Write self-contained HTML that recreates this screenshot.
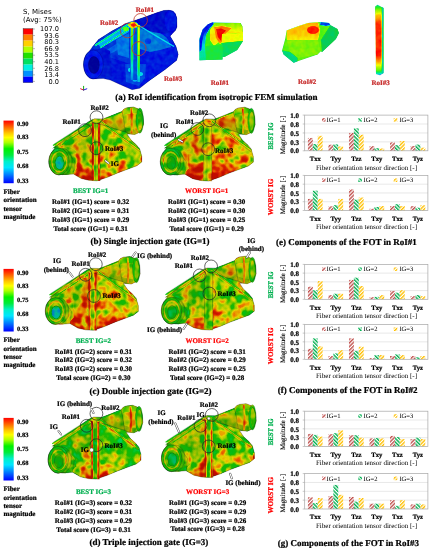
<!DOCTYPE html>
<html><head><meta charset="utf-8"><style>
html,body{margin:0;padding:0;background:#fff;}
svg{display:block;}
</style></head><body>
<svg width="430" height="550" viewBox="0 0 430 550" text-rendering="geometricPrecision">
<defs>
<linearGradient id="jet" x1="0" y1="0" x2="0" y2="1">
<stop offset="0" stop-color="#ff0000"/><stop offset="0.1" stop-color="#ff6400"/>
<stop offset="0.2" stop-color="#ffc800"/><stop offset="0.27" stop-color="#ffff00"/>
<stop offset="0.35" stop-color="#aaff00"/><stop offset="0.45" stop-color="#00f000"/>
<stop offset="0.55" stop-color="#00eb3c"/><stop offset="0.65" stop-color="#00f0c8"/>
<stop offset="0.75" stop-color="#00e6ff"/><stop offset="0.87" stop-color="#0078ff"/>
<stop offset="1" stop-color="#0000ff"/></linearGradient>
<pattern id="hr" width="2.6" height="2.6" patternUnits="userSpaceOnUse" patternTransform="rotate(45)"><rect width="2.6" height="2.6" fill="#fff"/><rect width="1.4" height="2.6" fill="#c0504d"/></pattern>
<pattern id="hg" width="2.6" height="2.6" patternUnits="userSpaceOnUse" patternTransform="rotate(-45)"><rect width="2.6" height="2.6" fill="#fff"/><rect width="1.4" height="2.6" fill="#00b050"/></pattern>
<pattern id="hy" width="2.6" height="2.6" patternUnits="userSpaceOnUse" patternTransform="rotate(45)"><rect width="2.6" height="2.6" fill="#fff"/><rect width="1.4" height="2.6" fill="#ffc000"/></pattern>
<linearGradient id="lf_m0" x1="0" y1="0" x2="0.25" y2="1"><stop offset="0" stop-color="rgb(97,247,102)"/><stop offset="0.25" stop-color="rgb(110,230,107)"/><stop offset="0.6" stop-color="rgb(108,219,115)"/><stop offset="0.85" stop-color="rgb(120,235,128)"/><stop offset="1" stop-color="rgb(154,230,140)"/></linearGradient>
<linearGradient id="rf_m0" x1="0" y1="0" x2="-0.3" y2="1"><stop offset="0" stop-color="rgb(102,247,102)"/><stop offset="0.35" stop-color="rgb(101,242,115)"/><stop offset="0.55" stop-color="rgb(115,242,128)"/><stop offset="0.75" stop-color="rgb(144,242,140)"/><stop offset="1" stop-color="rgb(167,235,140)"/></linearGradient>
<linearGradient id="cy_m0" x1="0" y1="0" x2="0.15" y2="1"><stop offset="0" stop-color="rgb(108,247,64)"/><stop offset="0.25" stop-color="rgb(133,237,82)"/><stop offset="0.65" stop-color="rgb(138,209,82)"/><stop offset="1" stop-color="rgb(130,191,76)"/></linearGradient>
<filter id="femf0" color-interpolation-filters="sRGB" filterUnits="userSpaceOnUse" x="40" y="100" width="110" height="90">
 <feTurbulence type="fractalNoise" baseFrequency="0.11" numOctaves="2" seed="7" result="n0"/>
 <feColorMatrix in="n0" type="matrix" values="2 0 0 0 -0.5  0 0 0 0 0  0 0 0 0 0  0 0 0 0 1" result="n2"/>
 <feColorMatrix in="SourceGraphic" type="matrix" values="0 0 1 0 0  0 0 0 0 0  0 0 0 0 0  0 0 0 0 1" result="amp"/>
 <feComposite in="n2" in2="amp" operator="arithmetic" k1="1" k2="0" k3="0" k4="0" result="prod"/>
 <feColorMatrix in="SourceGraphic" type="matrix" values="1 0 0 0 0  0 1 0 0 0  0 0 0 0 0  0 0 0 0 1" result="src"/>
 <feComposite in="prod" in2="src" operator="arithmetic" k1="0" k2="1" k3="1" k4="0" result="v"/>
 <feColorMatrix in="v" type="matrix" values="1 0 0 0 0  1 0 0 0 0  1 0 0 0 0  0 0 0 0 1" result="vvv"/>
 <feComponentTransfer in="vvv" result="col"><feFuncR type="table" tableValues="0 0 0 0 0.02 0.12 0.6 0.95 0.98 0.92 0.8"/><feFuncG type="table" tableValues="0.2 0.55 0.85 0.85 0.78 0.76 0.84 0.88 0.55 0.16 0.05"/><feFuncB type="table" tableValues="1 0.95 0.7 0.35 0.08 0 0 0 0 0 0"/></feComponentTransfer>
 <feColorMatrix in="v" type="matrix" values="0 1 0 0 0  0 1 0 0 0  0 1 0 0 0  0 0 0 0 1" result="sss"/>
 <feComposite in="col" in2="sss" operator="arithmetic" k1="1" k2="0" k3="0" k4="0" result="sh"/>
 <feComposite in="sh" in2="SourceAlpha" operator="in"/>
</filter>
<linearGradient id="lf_m1" x1="0" y1="0" x2="0.25" y2="1"><stop offset="0" stop-color="rgb(107,247,102)"/><stop offset="0.25" stop-color="rgb(120,230,107)"/><stop offset="0.6" stop-color="rgb(119,219,115)"/><stop offset="0.85" stop-color="rgb(130,235,128)"/><stop offset="1" stop-color="rgb(164,230,140)"/></linearGradient>
<linearGradient id="rf_m1" x1="0" y1="0" x2="-0.3" y2="1"><stop offset="0" stop-color="rgb(130,247,102)"/><stop offset="0.35" stop-color="rgb(129,242,115)"/><stop offset="0.55" stop-color="rgb(143,242,128)"/><stop offset="0.75" stop-color="rgb(172,242,140)"/><stop offset="1" stop-color="rgb(195,235,140)"/></linearGradient>
<linearGradient id="cy_m1" x1="0" y1="0" x2="0.15" y2="1"><stop offset="0" stop-color="rgb(108,247,64)"/><stop offset="0.25" stop-color="rgb(148,237,82)"/><stop offset="0.65" stop-color="rgb(153,209,82)"/><stop offset="1" stop-color="rgb(145,191,76)"/></linearGradient>
<filter id="femf1" color-interpolation-filters="sRGB" filterUnits="userSpaceOnUse" x="151.5" y="100.2" width="110" height="90">
 <feTurbulence type="fractalNoise" baseFrequency="0.11" numOctaves="2" seed="11" result="n0"/>
 <feColorMatrix in="n0" type="matrix" values="2 0 0 0 -0.5  0 0 0 0 0  0 0 0 0 0  0 0 0 0 1" result="n2"/>
 <feColorMatrix in="SourceGraphic" type="matrix" values="0 0 1 0 0  0 0 0 0 0  0 0 0 0 0  0 0 0 0 1" result="amp"/>
 <feComposite in="n2" in2="amp" operator="arithmetic" k1="1" k2="0" k3="0" k4="0" result="prod"/>
 <feColorMatrix in="SourceGraphic" type="matrix" values="1 0 0 0 0  0 1 0 0 0  0 0 0 0 0  0 0 0 0 1" result="src"/>
 <feComposite in="prod" in2="src" operator="arithmetic" k1="0" k2="1" k3="1" k4="0" result="v"/>
 <feColorMatrix in="v" type="matrix" values="1 0 0 0 0  1 0 0 0 0  1 0 0 0 0  0 0 0 0 1" result="vvv"/>
 <feComponentTransfer in="vvv" result="col"><feFuncR type="table" tableValues="0 0 0 0 0.02 0.12 0.6 0.95 0.98 0.92 0.8"/><feFuncG type="table" tableValues="0.2 0.55 0.85 0.85 0.78 0.76 0.84 0.88 0.55 0.16 0.05"/><feFuncB type="table" tableValues="1 0.95 0.7 0.35 0.08 0 0 0 0 0 0"/></feComponentTransfer>
 <feColorMatrix in="v" type="matrix" values="0 1 0 0 0  0 1 0 0 0  0 1 0 0 0  0 0 0 0 1" result="sss"/>
 <feComposite in="col" in2="sss" operator="arithmetic" k1="1" k2="0" k3="0" k4="0" result="sh"/>
 <feComposite in="sh" in2="SourceAlpha" operator="in"/>
</filter>
<linearGradient id="lf_m2" x1="0" y1="0" x2="0.25" y2="1"><stop offset="0" stop-color="rgb(112,247,102)"/><stop offset="0.25" stop-color="rgb(125,230,107)"/><stop offset="0.6" stop-color="rgb(124,219,115)"/><stop offset="0.85" stop-color="rgb(135,235,128)"/><stop offset="1" stop-color="rgb(170,230,140)"/></linearGradient>
<linearGradient id="rf_m2" x1="0" y1="0" x2="-0.3" y2="1"><stop offset="0" stop-color="rgb(117,247,102)"/><stop offset="0.35" stop-color="rgb(116,242,115)"/><stop offset="0.55" stop-color="rgb(130,242,128)"/><stop offset="0.75" stop-color="rgb(159,242,140)"/><stop offset="1" stop-color="rgb(182,235,140)"/></linearGradient>
<linearGradient id="cy_m2" x1="0" y1="0" x2="0.15" y2="1"><stop offset="0" stop-color="rgb(108,247,64)"/><stop offset="0.25" stop-color="rgb(140,237,82)"/><stop offset="0.65" stop-color="rgb(145,209,82)"/><stop offset="1" stop-color="rgb(138,191,76)"/></linearGradient>
<filter id="femf2" color-interpolation-filters="sRGB" filterUnits="userSpaceOnUse" x="36.5" y="249.5" width="110" height="90">
 <feTurbulence type="fractalNoise" baseFrequency="0.11" numOctaves="2" seed="5" result="n0"/>
 <feColorMatrix in="n0" type="matrix" values="2 0 0 0 -0.5  0 0 0 0 0  0 0 0 0 0  0 0 0 0 1" result="n2"/>
 <feColorMatrix in="SourceGraphic" type="matrix" values="0 0 1 0 0  0 0 0 0 0  0 0 0 0 0  0 0 0 0 1" result="amp"/>
 <feComposite in="n2" in2="amp" operator="arithmetic" k1="1" k2="0" k3="0" k4="0" result="prod"/>
 <feColorMatrix in="SourceGraphic" type="matrix" values="1 0 0 0 0  0 1 0 0 0  0 0 0 0 0  0 0 0 0 1" result="src"/>
 <feComposite in="prod" in2="src" operator="arithmetic" k1="0" k2="1" k3="1" k4="0" result="v"/>
 <feColorMatrix in="v" type="matrix" values="1 0 0 0 0  1 0 0 0 0  1 0 0 0 0  0 0 0 0 1" result="vvv"/>
 <feComponentTransfer in="vvv" result="col"><feFuncR type="table" tableValues="0 0 0 0 0.02 0.12 0.6 0.95 0.98 0.92 0.8"/><feFuncG type="table" tableValues="0.2 0.55 0.85 0.85 0.78 0.76 0.84 0.88 0.55 0.16 0.05"/><feFuncB type="table" tableValues="1 0.95 0.7 0.35 0.08 0 0 0 0 0 0"/></feComponentTransfer>
 <feColorMatrix in="v" type="matrix" values="0 1 0 0 0  0 1 0 0 0  0 1 0 0 0  0 0 0 0 1" result="sss"/>
 <feComposite in="col" in2="sss" operator="arithmetic" k1="1" k2="0" k3="0" k4="0" result="sh"/>
 <feComposite in="sh" in2="SourceAlpha" operator="in"/>
</filter>
<linearGradient id="lf_m3" x1="0" y1="0" x2="0.25" y2="1"><stop offset="0" stop-color="rgb(82,247,102)"/><stop offset="0.25" stop-color="rgb(94,230,107)"/><stop offset="0.6" stop-color="rgb(93,219,115)"/><stop offset="0.85" stop-color="rgb(105,235,128)"/><stop offset="1" stop-color="rgb(139,230,140)"/></linearGradient>
<linearGradient id="rf_m3" x1="0" y1="0" x2="-0.3" y2="1"><stop offset="0" stop-color="rgb(94,247,102)"/><stop offset="0.35" stop-color="rgb(93,242,115)"/><stop offset="0.55" stop-color="rgb(107,242,128)"/><stop offset="0.75" stop-color="rgb(136,242,140)"/><stop offset="1" stop-color="rgb(159,235,140)"/></linearGradient>
<linearGradient id="cy_m3" x1="0" y1="0" x2="0.15" y2="1"><stop offset="0" stop-color="rgb(108,247,64)"/><stop offset="0.25" stop-color="rgb(133,237,82)"/><stop offset="0.65" stop-color="rgb(138,209,82)"/><stop offset="1" stop-color="rgb(130,191,76)"/></linearGradient>
<filter id="femf3" color-interpolation-filters="sRGB" filterUnits="userSpaceOnUse" x="152.5" y="249.2" width="110" height="90">
 <feTurbulence type="fractalNoise" baseFrequency="0.11" numOctaves="2" seed="13" result="n0"/>
 <feColorMatrix in="n0" type="matrix" values="2 0 0 0 -0.5  0 0 0 0 0  0 0 0 0 0  0 0 0 0 1" result="n2"/>
 <feColorMatrix in="SourceGraphic" type="matrix" values="0 0 1 0 0  0 0 0 0 0  0 0 0 0 0  0 0 0 0 1" result="amp"/>
 <feComposite in="n2" in2="amp" operator="arithmetic" k1="1" k2="0" k3="0" k4="0" result="prod"/>
 <feColorMatrix in="SourceGraphic" type="matrix" values="1 0 0 0 0  0 1 0 0 0  0 0 0 0 0  0 0 0 0 1" result="src"/>
 <feComposite in="prod" in2="src" operator="arithmetic" k1="0" k2="1" k3="1" k4="0" result="v"/>
 <feColorMatrix in="v" type="matrix" values="1 0 0 0 0  1 0 0 0 0  1 0 0 0 0  0 0 0 0 1" result="vvv"/>
 <feComponentTransfer in="vvv" result="col"><feFuncR type="table" tableValues="0 0 0 0 0.02 0.12 0.6 0.95 0.98 0.92 0.8"/><feFuncG type="table" tableValues="0.2 0.55 0.85 0.85 0.78 0.76 0.84 0.88 0.55 0.16 0.05"/><feFuncB type="table" tableValues="1 0.95 0.7 0.35 0.08 0 0 0 0 0 0"/></feComponentTransfer>
 <feColorMatrix in="v" type="matrix" values="0 1 0 0 0  0 1 0 0 0  0 1 0 0 0  0 0 0 0 1" result="sss"/>
 <feComposite in="col" in2="sss" operator="arithmetic" k1="1" k2="0" k3="0" k4="0" result="sh"/>
 <feComposite in="sh" in2="SourceAlpha" operator="in"/>
</filter>
<linearGradient id="lf_m4" x1="0" y1="0" x2="0.25" y2="1"><stop offset="0" stop-color="rgb(71,247,102)"/><stop offset="0.25" stop-color="rgb(84,230,107)"/><stop offset="0.6" stop-color="rgb(83,219,115)"/><stop offset="0.85" stop-color="rgb(94,235,128)"/><stop offset="1" stop-color="rgb(129,230,140)"/></linearGradient>
<linearGradient id="rf_m4" x1="0" y1="0" x2="-0.3" y2="1"><stop offset="0" stop-color="rgb(76,247,102)"/><stop offset="0.35" stop-color="rgb(75,242,115)"/><stop offset="0.55" stop-color="rgb(89,242,128)"/><stop offset="0.75" stop-color="rgb(119,242,140)"/><stop offset="1" stop-color="rgb(142,235,140)"/></linearGradient>
<linearGradient id="cy_m4" x1="0" y1="0" x2="0.15" y2="1"><stop offset="0" stop-color="rgb(108,247,64)"/><stop offset="0.25" stop-color="rgb(120,237,82)"/><stop offset="0.65" stop-color="rgb(125,209,82)"/><stop offset="1" stop-color="rgb(117,191,76)"/></linearGradient>
<filter id="femf4" color-interpolation-filters="sRGB" filterUnits="userSpaceOnUse" x="39.2" y="398.3" width="110" height="90">
 <feTurbulence type="fractalNoise" baseFrequency="0.11" numOctaves="2" seed="17" result="n0"/>
 <feColorMatrix in="n0" type="matrix" values="2 0 0 0 -0.5  0 0 0 0 0  0 0 0 0 0  0 0 0 0 1" result="n2"/>
 <feColorMatrix in="SourceGraphic" type="matrix" values="0 0 1 0 0  0 0 0 0 0  0 0 0 0 0  0 0 0 0 1" result="amp"/>
 <feComposite in="n2" in2="amp" operator="arithmetic" k1="1" k2="0" k3="0" k4="0" result="prod"/>
 <feColorMatrix in="SourceGraphic" type="matrix" values="1 0 0 0 0  0 1 0 0 0  0 0 0 0 0  0 0 0 0 1" result="src"/>
 <feComposite in="prod" in2="src" operator="arithmetic" k1="0" k2="1" k3="1" k4="0" result="v"/>
 <feColorMatrix in="v" type="matrix" values="1 0 0 0 0  1 0 0 0 0  1 0 0 0 0  0 0 0 0 1" result="vvv"/>
 <feComponentTransfer in="vvv" result="col"><feFuncR type="table" tableValues="0 0 0 0 0.02 0.12 0.6 0.95 0.98 0.92 0.8"/><feFuncG type="table" tableValues="0.2 0.55 0.85 0.85 0.78 0.76 0.84 0.88 0.55 0.16 0.05"/><feFuncB type="table" tableValues="1 0.95 0.7 0.35 0.08 0 0 0 0 0 0"/></feComponentTransfer>
 <feColorMatrix in="v" type="matrix" values="0 1 0 0 0  0 1 0 0 0  0 1 0 0 0  0 0 0 0 1" result="sss"/>
 <feComposite in="col" in2="sss" operator="arithmetic" k1="1" k2="0" k3="0" k4="0" result="sh"/>
 <feComposite in="sh" in2="SourceAlpha" operator="in"/>
</filter>
<linearGradient id="lf_m5" x1="0" y1="0" x2="0.25" y2="1"><stop offset="0" stop-color="rgb(79,247,102)"/><stop offset="0.25" stop-color="rgb(92,230,107)"/><stop offset="0.6" stop-color="rgb(91,219,115)"/><stop offset="0.85" stop-color="rgb(102,235,128)"/><stop offset="1" stop-color="rgb(136,230,140)"/></linearGradient>
<linearGradient id="rf_m5" x1="0" y1="0" x2="-0.3" y2="1"><stop offset="0" stop-color="rgb(87,247,102)"/><stop offset="0.35" stop-color="rgb(85,242,115)"/><stop offset="0.55" stop-color="rgb(99,242,128)"/><stop offset="0.75" stop-color="rgb(129,242,140)"/><stop offset="1" stop-color="rgb(152,235,140)"/></linearGradient>
<linearGradient id="cy_m5" x1="0" y1="0" x2="0.15" y2="1"><stop offset="0" stop-color="rgb(108,247,64)"/><stop offset="0.25" stop-color="rgb(125,237,82)"/><stop offset="0.65" stop-color="rgb(130,209,82)"/><stop offset="1" stop-color="rgb(122,191,76)"/></linearGradient>
<filter id="femf5" color-interpolation-filters="sRGB" filterUnits="userSpaceOnUse" x="152.6" y="396.7" width="110" height="90">
 <feTurbulence type="fractalNoise" baseFrequency="0.11" numOctaves="2" seed="19" result="n0"/>
 <feColorMatrix in="n0" type="matrix" values="2 0 0 0 -0.5  0 0 0 0 0  0 0 0 0 0  0 0 0 0 1" result="n2"/>
 <feColorMatrix in="SourceGraphic" type="matrix" values="0 0 1 0 0  0 0 0 0 0  0 0 0 0 0  0 0 0 0 1" result="amp"/>
 <feComposite in="n2" in2="amp" operator="arithmetic" k1="1" k2="0" k3="0" k4="0" result="prod"/>
 <feColorMatrix in="SourceGraphic" type="matrix" values="1 0 0 0 0  0 1 0 0 0  0 0 0 0 0  0 0 0 0 1" result="src"/>
 <feComposite in="prod" in2="src" operator="arithmetic" k1="0" k2="1" k3="1" k4="0" result="v"/>
 <feColorMatrix in="v" type="matrix" values="1 0 0 0 0  1 0 0 0 0  1 0 0 0 0  0 0 0 0 1" result="vvv"/>
 <feComponentTransfer in="vvv" result="col"><feFuncR type="table" tableValues="0 0 0 0 0.02 0.12 0.6 0.95 0.98 0.92 0.8"/><feFuncG type="table" tableValues="0.2 0.55 0.85 0.85 0.78 0.76 0.84 0.88 0.55 0.16 0.05"/><feFuncB type="table" tableValues="1 0.95 0.7 0.35 0.08 0 0 0 0 0 0"/></feComponentTransfer>
 <feColorMatrix in="v" type="matrix" values="0 1 0 0 0  0 1 0 0 0  0 1 0 0 0  0 0 0 0 1" result="sss"/>
 <feComposite in="col" in2="sss" operator="arithmetic" k1="1" k2="0" k3="0" k4="0" result="sh"/>
 <feComposite in="sh" in2="SourceAlpha" operator="in"/>
</filter>
<filter id="fema" color-interpolation-filters="sRGB" filterUnits="userSpaceOnUse" x="0" y="0" width="430" height="550">
 <feTurbulence type="fractalNoise" baseFrequency="0.2" numOctaves="2" seed="3" result="n0"/>
 <feColorMatrix in="n0" type="matrix" values="1 0 0 0 0  0 0 0 0 0.5  0 0 0 0 0  0 0 0 0 1" result="n"/>
 <feComposite in="n" in2="SourceGraphic" operator="arithmetic" k1="0" k2="0.1" k3="1" k4="-0.05" result="v"/>
 <feColorMatrix in="v" type="matrix" values="1 0 0 0 0  1 0 0 0 0  1 0 0 0 0  0 0 0 0 1" result="vvv"/>
 <feComponentTransfer in="vvv" result="col"><feFuncR type="table" tableValues="0 0 0 0 0 0.2 0.6 0.95 1 1 1"/><feFuncG type="table" tableValues="0 0.35 0.7 0.95 1 1 1 1 0.7 0.35 0"/><feFuncB type="table" tableValues="1 1 1 0.95 0.5 0.1 0 0 0 0 0"/></feComponentTransfer>
 <feColorMatrix in="v" type="matrix" values="0 1 0 0 0  0 1 0 0 0  0 1 0 0 0  0 0 0 0 1" result="sss"/>
 <feComposite in="col" in2="sss" operator="arithmetic" k1="1" k2="0" k3="0" k4="0" result="sh"/>
 <feComposite in="sh" in2="SourceAlpha" operator="in"/>
</filter>
<linearGradient id="ribA" x1="0" y1="0" x2="0" y2="1"><stop offset="0" stop-color="rgb(150,245,0)"/><stop offset="0.35" stop-color="rgb(130,240,0)"/><stop offset="0.6" stop-color="rgb(100,235,0)"/><stop offset="0.85" stop-color="rgb(70,230,0)"/><stop offset="1" stop-color="rgb(40,220,0)"/></linearGradient>
<linearGradient id="ribA2" x1="0" y1="0" x2="0" y2="1"><stop offset="0" stop-color="rgb(170,245,0)"/><stop offset="0.4" stop-color="rgb(175,245,0)"/><stop offset="0.75" stop-color="rgb(120,235,0)"/><stop offset="1" stop-color="rgb(60,225,0)"/></linearGradient>
<linearGradient id="c1l" x1="0" y1="0" x2="0" y2="1"><stop offset="0" stop-color="rgb(5,217,0)"/><stop offset="0.3" stop-color="rgb(31,230,0)"/><stop offset="0.6" stop-color="rgb(76,230,0)"/><stop offset="1" stop-color="rgb(97,230,0)"/></linearGradient>
<linearGradient id="c1t" x1="0" y1="0" x2="0" y2="1"><stop offset="0" stop-color="rgb(148,242,0)"/><stop offset="0.5" stop-color="rgb(191,255,0)"/><stop offset="1" stop-color="rgb(178,255,0)"/></linearGradient>
<linearGradient id="c2t" x1="0" y1="0" x2="0" y2="1"><stop offset="0" stop-color="rgb(204,255,0)"/><stop offset="0.6" stop-color="rgb(199,255,0)"/><stop offset="1" stop-color="rgb(184,255,0)"/></linearGradient>
<linearGradient id="c3" x1="0" y1="0" x2="0" y2="1"><stop offset="0" stop-color="rgb(89,230,0)"/><stop offset="0.06" stop-color="rgb(140,242,0)"/><stop offset="0.15" stop-color="rgb(199,255,0)"/><stop offset="0.28" stop-color="rgb(242,255,0)"/><stop offset="0.72" stop-color="rgb(247,255,0)"/><stop offset="0.85" stop-color="rgb(184,255,0)"/><stop offset="0.93" stop-color="rgb(140,242,0)"/><stop offset="1" stop-color="rgb(51,230,0)"/></linearGradient>
</defs>
<rect width="430" height="550" fill="#fff"/>
<text x="115.30" y="100.06" font-family="'Liberation Serif', serif" font-weight="bold" font-size="9" fill="#000" text-anchor="start" stroke="#000" stroke-width="0.22">(a) RoI identification from isotropic FEM simulation</text>
<text x="90.40" y="244.46" font-family="'Liberation Serif', serif" font-weight="bold" font-size="9" fill="#000" text-anchor="start" stroke="#000" stroke-width="0.22">(b) Single injection gate (IG=1)</text>
<text x="89.50" y="393.56" font-family="'Liberation Serif', serif" font-weight="bold" font-size="9" fill="#000" text-anchor="start" stroke="#000" stroke-width="0.22">(c) Double injection gate (IG=2)</text>
<text x="89.50" y="545.46" font-family="'Liberation Serif', serif" font-weight="bold" font-size="9" fill="#000" text-anchor="start" stroke="#000" stroke-width="0.22">(d) Triple injection gate (IG=3)</text>
<text x="416.80" y="244.86" font-family="'Liberation Serif', serif" font-weight="bold" font-size="9" fill="#000" text-anchor="end" stroke="#000" stroke-width="0.22">(e) Components of the FOT in RoI#1</text>
<text x="417.60" y="392.76" font-family="'Liberation Serif', serif" font-weight="bold" font-size="9" fill="#000" text-anchor="end" stroke="#000" stroke-width="0.22">(f) Components of the FOT in RoI#2</text>
<text x="419.00" y="545.96" font-family="'Liberation Serif', serif" font-weight="bold" font-size="9" fill="#000" text-anchor="end" stroke="#000" stroke-width="0.22">(g) Components of the FOT in RoI#3</text>
<text x="90.60" y="193.18" font-family="'Liberation Serif', serif" font-weight="bold" font-size="7" fill="#00b050" text-anchor="middle" stroke="#00b050" stroke-width="0.22">BEST IG=1</text>
<text x="90.60" y="204.38" font-family="'Liberation Serif', serif" font-weight="bold" font-size="7" fill="#000" text-anchor="middle" stroke="#000" stroke-width="0.22">RoI#1 (IG=1) score = 0.32</text>
<text x="90.60" y="212.98" font-family="'Liberation Serif', serif" font-weight="bold" font-size="7" fill="#000" text-anchor="middle" stroke="#000" stroke-width="0.22">RoI#2 (IG=1) score = 0.31</text>
<text x="90.60" y="221.98" font-family="'Liberation Serif', serif" font-weight="bold" font-size="7" fill="#000" text-anchor="middle" stroke="#000" stroke-width="0.22">RoI#3 (IG=1) score = 0.29</text>
<text x="90.60" y="230.58" font-family="'Liberation Serif', serif" font-weight="bold" font-size="7" fill="#000" text-anchor="middle" stroke="#000" stroke-width="0.22">Total score (IG=1) = 0.31</text>
<text x="206.60" y="193.18" font-family="'Liberation Serif', serif" font-weight="bold" font-size="7" fill="#ff0000" text-anchor="middle" stroke="#ff0000" stroke-width="0.22">WORST IG=1</text>
<text x="206.60" y="204.38" font-family="'Liberation Serif', serif" font-weight="bold" font-size="7" fill="#000" text-anchor="middle" stroke="#000" stroke-width="0.22">RoI#1 (IG=1) score = 0.30</text>
<text x="206.60" y="212.98" font-family="'Liberation Serif', serif" font-weight="bold" font-size="7" fill="#000" text-anchor="middle" stroke="#000" stroke-width="0.22">RoI#2 (IG=1) score = 0.30</text>
<text x="206.60" y="221.98" font-family="'Liberation Serif', serif" font-weight="bold" font-size="7" fill="#000" text-anchor="middle" stroke="#000" stroke-width="0.22">RoI#3 (IG=1) score = 0.25</text>
<text x="206.60" y="230.58" font-family="'Liberation Serif', serif" font-weight="bold" font-size="7" fill="#000" text-anchor="middle" stroke="#000" stroke-width="0.22">Total score (IG=1) = 0.29</text>
<text x="93.30" y="342.68" font-family="'Liberation Serif', serif" font-weight="bold" font-size="7" fill="#00b050" text-anchor="middle" stroke="#00b050" stroke-width="0.22">BEST IG=2</text>
<text x="93.30" y="353.88" font-family="'Liberation Serif', serif" font-weight="bold" font-size="7" fill="#000" text-anchor="middle" stroke="#000" stroke-width="0.22">RoI#1 (IG=2) score = 0.31</text>
<text x="93.30" y="362.48" font-family="'Liberation Serif', serif" font-weight="bold" font-size="7" fill="#000" text-anchor="middle" stroke="#000" stroke-width="0.22">RoI#2 (IG=2) score = 0.32</text>
<text x="93.30" y="371.48" font-family="'Liberation Serif', serif" font-weight="bold" font-size="7" fill="#000" text-anchor="middle" stroke="#000" stroke-width="0.22">RoI#3 (IG=2) score = 0.30</text>
<text x="93.30" y="380.08" font-family="'Liberation Serif', serif" font-weight="bold" font-size="7" fill="#000" text-anchor="middle" stroke="#000" stroke-width="0.22">Total score (IG=2) = 0.30</text>
<text x="207.10" y="342.68" font-family="'Liberation Serif', serif" font-weight="bold" font-size="7" fill="#ff0000" text-anchor="middle" stroke="#ff0000" stroke-width="0.22">WORST IG=2</text>
<text x="207.10" y="353.88" font-family="'Liberation Serif', serif" font-weight="bold" font-size="7" fill="#000" text-anchor="middle" stroke="#000" stroke-width="0.22">RoI#1 (IG=2) score = 0.31</text>
<text x="207.10" y="362.48" font-family="'Liberation Serif', serif" font-weight="bold" font-size="7" fill="#000" text-anchor="middle" stroke="#000" stroke-width="0.22">RoI#2 (IG=2) score = 0.29</text>
<text x="207.10" y="371.48" font-family="'Liberation Serif', serif" font-weight="bold" font-size="7" fill="#000" text-anchor="middle" stroke="#000" stroke-width="0.22">RoI#3 (IG=2) score = 0.25</text>
<text x="207.10" y="380.08" font-family="'Liberation Serif', serif" font-weight="bold" font-size="7" fill="#000" text-anchor="middle" stroke="#000" stroke-width="0.22">Total score (IG=2) = 0.28</text>
<text x="93.50" y="494.18" font-family="'Liberation Serif', serif" font-weight="bold" font-size="7" fill="#00b050" text-anchor="middle" stroke="#00b050" stroke-width="0.22">BEST IG=3</text>
<text x="93.50" y="505.38" font-family="'Liberation Serif', serif" font-weight="bold" font-size="7" fill="#000" text-anchor="middle" stroke="#000" stroke-width="0.22">RoI#1 (IG=3) score = 0.32</text>
<text x="93.50" y="513.98" font-family="'Liberation Serif', serif" font-weight="bold" font-size="7" fill="#000" text-anchor="middle" stroke="#000" stroke-width="0.22">RoI#2 (IG=3) score = 0.31</text>
<text x="93.50" y="522.98" font-family="'Liberation Serif', serif" font-weight="bold" font-size="7" fill="#000" text-anchor="middle" stroke="#000" stroke-width="0.22">RoI#3 (IG=3) score = 0.29</text>
<text x="93.50" y="531.58" font-family="'Liberation Serif', serif" font-weight="bold" font-size="7" fill="#000" text-anchor="middle" stroke="#000" stroke-width="0.22">Total score (IG=3) = 0.31</text>
<text x="207.60" y="493.98" font-family="'Liberation Serif', serif" font-weight="bold" font-size="7" fill="#ff0000" text-anchor="middle" stroke="#ff0000" stroke-width="0.22">WORST IG=3</text>
<text x="207.60" y="505.18" font-family="'Liberation Serif', serif" font-weight="bold" font-size="7" fill="#000" text-anchor="middle" stroke="#000" stroke-width="0.22">RoI#1 (IG=3) score = 0.29</text>
<text x="207.60" y="513.78" font-family="'Liberation Serif', serif" font-weight="bold" font-size="7" fill="#000" text-anchor="middle" stroke="#000" stroke-width="0.22">RoI#2 (IG=3) score = 0.29</text>
<text x="207.60" y="522.78" font-family="'Liberation Serif', serif" font-weight="bold" font-size="7" fill="#000" text-anchor="middle" stroke="#000" stroke-width="0.22">RoI#3 (IG=3) score = 0.26</text>
<text x="207.60" y="531.38" font-family="'Liberation Serif', serif" font-weight="bold" font-size="7" fill="#000" text-anchor="middle" stroke="#000" stroke-width="0.22">Total score (IG=3) = 0.28</text>
<rect x="3.5" y="120.60" width="10.2" height="62.6" fill="url(#jet)"/>
<text x="17.00" y="126.41" font-family="'Liberation Serif', serif" font-weight="bold" font-size="6.5" fill="#000" text-anchor="start" stroke="#000" stroke-width="0.22">0.90</text>
<text x="17.00" y="139.41" font-family="'Liberation Serif', serif" font-weight="bold" font-size="6.5" fill="#000" text-anchor="start" stroke="#000" stroke-width="0.22">0.83</text>
<text x="17.00" y="153.51" font-family="'Liberation Serif', serif" font-weight="bold" font-size="6.5" fill="#000" text-anchor="start" stroke="#000" stroke-width="0.22">0.75</text>
<text x="17.00" y="167.71" font-family="'Liberation Serif', serif" font-weight="bold" font-size="6.5" fill="#000" text-anchor="start" stroke="#000" stroke-width="0.22">0.68</text>
<text x="17.00" y="183.11" font-family="'Liberation Serif', serif" font-weight="bold" font-size="6.5" fill="#000" text-anchor="start" stroke="#000" stroke-width="0.22">0.33</text>
<text x="3.50" y="193.98" font-family="'Liberation Serif', serif" font-weight="bold" font-size="7" fill="#000" text-anchor="start" stroke="#000" stroke-width="0.22">Fiber</text>
<text x="3.50" y="202.38" font-family="'Liberation Serif', serif" font-weight="bold" font-size="7" fill="#000" text-anchor="start" stroke="#000" stroke-width="0.22">orientation</text>
<text x="3.50" y="210.78" font-family="'Liberation Serif', serif" font-weight="bold" font-size="7" fill="#000" text-anchor="start" stroke="#000" stroke-width="0.22">tensor</text>
<text x="3.50" y="219.18" font-family="'Liberation Serif', serif" font-weight="bold" font-size="7" fill="#000" text-anchor="start" stroke="#000" stroke-width="0.22">magnitude</text>
<rect x="3.5" y="268.90" width="10.2" height="62.6" fill="url(#jet)"/>
<text x="17.00" y="274.71" font-family="'Liberation Serif', serif" font-weight="bold" font-size="6.5" fill="#000" text-anchor="start" stroke="#000" stroke-width="0.22">0.90</text>
<text x="17.00" y="287.71" font-family="'Liberation Serif', serif" font-weight="bold" font-size="6.5" fill="#000" text-anchor="start" stroke="#000" stroke-width="0.22">0.83</text>
<text x="17.00" y="301.81" font-family="'Liberation Serif', serif" font-weight="bold" font-size="6.5" fill="#000" text-anchor="start" stroke="#000" stroke-width="0.22">0.75</text>
<text x="17.00" y="316.01" font-family="'Liberation Serif', serif" font-weight="bold" font-size="6.5" fill="#000" text-anchor="start" stroke="#000" stroke-width="0.22">0.68</text>
<text x="17.00" y="331.41" font-family="'Liberation Serif', serif" font-weight="bold" font-size="6.5" fill="#000" text-anchor="start" stroke="#000" stroke-width="0.22">0.33</text>
<text x="3.50" y="342.28" font-family="'Liberation Serif', serif" font-weight="bold" font-size="7" fill="#000" text-anchor="start" stroke="#000" stroke-width="0.22">Fiber</text>
<text x="3.50" y="350.68" font-family="'Liberation Serif', serif" font-weight="bold" font-size="7" fill="#000" text-anchor="start" stroke="#000" stroke-width="0.22">orientation</text>
<text x="3.50" y="359.08" font-family="'Liberation Serif', serif" font-weight="bold" font-size="7" fill="#000" text-anchor="start" stroke="#000" stroke-width="0.22">tensor</text>
<text x="3.50" y="367.48" font-family="'Liberation Serif', serif" font-weight="bold" font-size="7" fill="#000" text-anchor="start" stroke="#000" stroke-width="0.22">magnitude</text>
<rect x="3.5" y="417.90" width="10.2" height="62.6" fill="url(#jet)"/>
<text x="17.00" y="423.71" font-family="'Liberation Serif', serif" font-weight="bold" font-size="6.5" fill="#000" text-anchor="start" stroke="#000" stroke-width="0.22">0.90</text>
<text x="17.00" y="436.71" font-family="'Liberation Serif', serif" font-weight="bold" font-size="6.5" fill="#000" text-anchor="start" stroke="#000" stroke-width="0.22">0.83</text>
<text x="17.00" y="450.81" font-family="'Liberation Serif', serif" font-weight="bold" font-size="6.5" fill="#000" text-anchor="start" stroke="#000" stroke-width="0.22">0.75</text>
<text x="17.00" y="465.01" font-family="'Liberation Serif', serif" font-weight="bold" font-size="6.5" fill="#000" text-anchor="start" stroke="#000" stroke-width="0.22">0.68</text>
<text x="17.00" y="480.41" font-family="'Liberation Serif', serif" font-weight="bold" font-size="6.5" fill="#000" text-anchor="start" stroke="#000" stroke-width="0.22">0.33</text>
<text x="3.50" y="491.28" font-family="'Liberation Serif', serif" font-weight="bold" font-size="7" fill="#000" text-anchor="start" stroke="#000" stroke-width="0.22">Fiber</text>
<text x="3.50" y="499.68" font-family="'Liberation Serif', serif" font-weight="bold" font-size="7" fill="#000" text-anchor="start" stroke="#000" stroke-width="0.22">orientation</text>
<text x="3.50" y="508.08" font-family="'Liberation Serif', serif" font-weight="bold" font-size="7" fill="#000" text-anchor="start" stroke="#000" stroke-width="0.22">tensor</text>
<text x="3.50" y="516.48" font-family="'Liberation Serif', serif" font-weight="bold" font-size="7" fill="#000" text-anchor="start" stroke="#000" stroke-width="0.22">magnitude</text>
<text x="23.10" y="13.98" font-family="'DejaVu Sans', 'Liberation Sans', sans-serif" font-weight="normal" font-size="7" fill="#000" text-anchor="start">S, Mises</text>
<text x="23.10" y="22.38" font-family="'DejaVu Sans', 'Liberation Sans', sans-serif" font-weight="normal" font-size="7" fill="#000" text-anchor="start">(Avg: 75%)</text>
<rect x="23.1" y="28.60" width="9.8" height="6.05" fill="#ff0000"/>
<rect x="23.1" y="34.60" width="9.8" height="6.05" fill="#ff7f00"/>
<rect x="23.1" y="40.60" width="9.8" height="6.05" fill="#ffd000"/>
<rect x="23.1" y="46.60" width="9.8" height="6.05" fill="#b0ff00"/>
<rect x="23.1" y="52.60" width="9.8" height="6.05" fill="#20e000"/>
<rect x="23.1" y="58.60" width="9.8" height="6.05" fill="#00e060"/>
<rect x="23.1" y="64.60" width="9.8" height="6.05" fill="#00f0e0"/>
<rect x="23.1" y="70.60" width="9.8" height="6.05" fill="#0090ff"/>
<rect x="23.1" y="76.60" width="9.8" height="6.05" fill="#0000ff"/>
<rect x="23.1" y="28.60" width="9.8" height="54.00" fill="none" stroke="#333" stroke-width="0.4"/>
<text x="59.00" y="31.24" font-family="'DejaVu Sans', 'Liberation Sans', sans-serif" font-weight="normal" font-size="6.6" fill="#000" text-anchor="end">107.0</text>
<line x1="33" y1="29.00" x2="35" y2="29.00" stroke="#555" stroke-width="0.4"/>
<text x="59.00" y="37.79" font-family="'DejaVu Sans', 'Liberation Sans', sans-serif" font-weight="normal" font-size="6.6" fill="#000" text-anchor="end">93.6</text>
<line x1="33" y1="35.55" x2="35" y2="35.55" stroke="#555" stroke-width="0.4"/>
<text x="59.00" y="44.34" font-family="'DejaVu Sans', 'Liberation Sans', sans-serif" font-weight="normal" font-size="6.6" fill="#000" text-anchor="end">80.3</text>
<line x1="33" y1="42.10" x2="35" y2="42.10" stroke="#555" stroke-width="0.4"/>
<text x="59.00" y="50.89" font-family="'DejaVu Sans', 'Liberation Sans', sans-serif" font-weight="normal" font-size="6.6" fill="#000" text-anchor="end">66.9</text>
<line x1="33" y1="48.65" x2="35" y2="48.65" stroke="#555" stroke-width="0.4"/>
<text x="59.00" y="57.44" font-family="'DejaVu Sans', 'Liberation Sans', sans-serif" font-weight="normal" font-size="6.6" fill="#000" text-anchor="end">53.5</text>
<line x1="33" y1="55.20" x2="35" y2="55.20" stroke="#555" stroke-width="0.4"/>
<text x="59.00" y="63.99" font-family="'DejaVu Sans', 'Liberation Sans', sans-serif" font-weight="normal" font-size="6.6" fill="#000" text-anchor="end">40.1</text>
<line x1="33" y1="61.75" x2="35" y2="61.75" stroke="#555" stroke-width="0.4"/>
<text x="59.00" y="70.54" font-family="'DejaVu Sans', 'Liberation Sans', sans-serif" font-weight="normal" font-size="6.6" fill="#000" text-anchor="end">26.8</text>
<line x1="33" y1="68.30" x2="35" y2="68.30" stroke="#555" stroke-width="0.4"/>
<text x="59.00" y="77.09" font-family="'DejaVu Sans', 'Liberation Sans', sans-serif" font-weight="normal" font-size="6.6" fill="#000" text-anchor="end">13.4</text>
<line x1="33" y1="74.85" x2="35" y2="74.85" stroke="#555" stroke-width="0.4"/>
<text x="59.00" y="83.64" font-family="'DejaVu Sans', 'Liberation Sans', sans-serif" font-weight="normal" font-size="6.6" fill="#000" text-anchor="end">0.0</text>
<line x1="33" y1="81.40" x2="35" y2="81.40" stroke="#555" stroke-width="0.4"/>
<line x1="304.7" y1="124.03" x2="427.9" y2="124.03" stroke="#d9d9d9" stroke-width="0.6"/>
<line x1="304.7" y1="132.95" x2="427.9" y2="132.95" stroke="#d9d9d9" stroke-width="0.6"/>
<line x1="304.7" y1="141.88" x2="427.9" y2="141.88" stroke="#d9d9d9" stroke-width="0.6"/>
<rect x="307.92" y="137.95" width="4.9" height="12.85" fill="url(#hr)"/>
<rect x="312.82" y="144.02" width="4.9" height="6.78" fill="url(#hg)"/>
<rect x="317.72" y="135.81" width="4.9" height="14.99" fill="url(#hy)"/>
<rect x="328.45" y="144.73" width="4.9" height="6.07" fill="url(#hr)"/>
<rect x="333.35" y="144.37" width="4.9" height="6.43" fill="url(#hg)"/>
<rect x="338.25" y="146.52" width="4.9" height="4.28" fill="url(#hy)"/>
<rect x="348.98" y="132.95" width="4.9" height="17.85" fill="url(#hr)"/>
<rect x="353.88" y="128.31" width="4.9" height="22.49" fill="url(#hg)"/>
<rect x="358.78" y="134.74" width="4.9" height="16.07" fill="url(#hy)"/>
<rect x="369.52" y="146.16" width="4.9" height="4.64" fill="url(#hr)"/>
<rect x="374.42" y="148.12" width="4.9" height="2.68" fill="url(#hg)"/>
<rect x="379.32" y="148.48" width="4.9" height="2.32" fill="url(#hy)"/>
<rect x="390.05" y="142.41" width="4.9" height="8.39" fill="url(#hr)"/>
<rect x="394.95" y="145.09" width="4.9" height="5.71" fill="url(#hg)"/>
<rect x="399.85" y="140.98" width="4.9" height="9.82" fill="url(#hy)"/>
<rect x="410.58" y="145.98" width="4.9" height="4.82" fill="url(#hr)"/>
<rect x="415.48" y="144.55" width="4.9" height="6.25" fill="url(#hg)"/>
<rect x="420.38" y="147.69" width="4.9" height="3.11" fill="url(#hy)"/>
<rect x="304.7" y="115.1" width="123.20" height="35.70" fill="none" stroke="#a6a6a6" stroke-width="0.7"/>
<line x1="302.7" y1="115.10" x2="304.7" y2="115.10" stroke="#a6a6a6" stroke-width="0.6"/>
<line x1="302.7" y1="124.03" x2="304.7" y2="124.03" stroke="#a6a6a6" stroke-width="0.6"/>
<line x1="302.7" y1="132.95" x2="304.7" y2="132.95" stroke="#a6a6a6" stroke-width="0.6"/>
<line x1="302.7" y1="141.88" x2="304.7" y2="141.88" stroke="#a6a6a6" stroke-width="0.6"/>
<line x1="302.7" y1="150.80" x2="304.7" y2="150.80" stroke="#a6a6a6" stroke-width="0.6"/>
<text x="299.10" y="117.78" font-family="'Liberation Serif', serif" font-weight="bold" font-size="7.0" fill="#000" text-anchor="end" stroke="#000" stroke-width="0.22">1.0</text>
<text x="299.10" y="126.70" font-family="'Liberation Serif', serif" font-weight="bold" font-size="7.0" fill="#000" text-anchor="end" stroke="#000" stroke-width="0.22">0.8</text>
<text x="299.10" y="135.63" font-family="'Liberation Serif', serif" font-weight="bold" font-size="7.0" fill="#000" text-anchor="end" stroke="#000" stroke-width="0.22">0.5</text>
<text x="299.10" y="144.56" font-family="'Liberation Serif', serif" font-weight="bold" font-size="7.0" fill="#000" text-anchor="end" stroke="#000" stroke-width="0.22">0.3</text>
<text x="299.10" y="153.48" font-family="'Liberation Serif', serif" font-weight="bold" font-size="7.0" fill="#000" text-anchor="end" stroke="#000" stroke-width="0.22">0.0</text>
<rect x="322.0" y="118.10" width="3.6" height="3.6" fill="url(#hr)"/>
<text x="326.60" y="122.14" font-family="'Liberation Serif', serif" font-weight="normal" font-size="6.6" fill="#000" text-anchor="start">IG=1</text>
<rect x="358.3" y="118.10" width="3.6" height="3.6" fill="url(#hg)"/>
<text x="363.60" y="122.14" font-family="'Liberation Serif', serif" font-weight="normal" font-size="6.6" fill="#000" text-anchor="start">IG=2</text>
<rect x="393.7" y="118.10" width="3.6" height="3.6" fill="url(#hy)"/>
<text x="399.40" y="122.14" font-family="'Liberation Serif', serif" font-weight="normal" font-size="6.6" fill="#000" text-anchor="start">IG=3</text>
<text x="315.27" y="161.28" font-family="'Liberation Serif', serif" font-weight="bold" font-size="6.7" fill="#000" text-anchor="middle" stroke="#000" stroke-width="0.22">Txx</text>
<text x="335.80" y="161.28" font-family="'Liberation Serif', serif" font-weight="bold" font-size="6.7" fill="#000" text-anchor="middle" stroke="#000" stroke-width="0.22">Tyy</text>
<text x="356.33" y="161.28" font-family="'Liberation Serif', serif" font-weight="bold" font-size="6.7" fill="#000" text-anchor="middle" stroke="#000" stroke-width="0.22">Tzz</text>
<text x="376.87" y="161.28" font-family="'Liberation Serif', serif" font-weight="bold" font-size="6.7" fill="#000" text-anchor="middle" stroke="#000" stroke-width="0.22">Txy</text>
<text x="397.40" y="161.28" font-family="'Liberation Serif', serif" font-weight="bold" font-size="6.7" fill="#000" text-anchor="middle" stroke="#000" stroke-width="0.22">Txz</text>
<text x="417.93" y="161.28" font-family="'Liberation Serif', serif" font-weight="bold" font-size="6.7" fill="#000" text-anchor="middle" stroke="#000" stroke-width="0.22">Tyz</text>
<text x="366.50" y="169.78" font-family="'Liberation Serif', serif" font-weight="normal" font-size="7" fill="#000" text-anchor="middle">Fiber orientation tensor direction [-]</text>
<text x="0" y="0" transform="translate(284.80,134.95) rotate(-90)" font-family="'Liberation Serif', serif" font-size="6.9" text-anchor="middle" stroke="#000" stroke-width="0.12">Magnitude [-]</text>
<text x="0" y="0" transform="translate(273.10,135.95) rotate(-90)" font-family="'Liberation Serif', serif" font-weight="bold" font-size="7.4" fill="#00b050" stroke="#00b050" stroke-width="0.25" text-anchor="middle" textLength="27" lengthAdjust="spacingAndGlyphs">BEST IG</text>
<line x1="304.7" y1="184.18" x2="427.9" y2="184.18" stroke="#d9d9d9" stroke-width="0.6"/>
<line x1="304.7" y1="192.95" x2="427.9" y2="192.95" stroke="#d9d9d9" stroke-width="0.6"/>
<line x1="304.7" y1="201.72" x2="427.9" y2="201.72" stroke="#d9d9d9" stroke-width="0.6"/>
<rect x="307.92" y="198.92" width="4.9" height="11.58" fill="url(#hr)"/>
<rect x="312.82" y="190.67" width="4.9" height="19.83" fill="url(#hg)"/>
<rect x="317.72" y="198.92" width="4.9" height="11.58" fill="url(#hy)"/>
<rect x="328.45" y="206.29" width="4.9" height="4.21" fill="url(#hr)"/>
<rect x="333.35" y="205.06" width="4.9" height="5.44" fill="url(#hg)"/>
<rect x="338.25" y="198.92" width="4.9" height="11.58" fill="url(#hy)"/>
<rect x="348.98" y="189.44" width="4.9" height="21.06" fill="url(#hr)"/>
<rect x="353.88" y="199.62" width="4.9" height="10.88" fill="url(#hg)"/>
<rect x="358.78" y="197.51" width="4.9" height="12.99" fill="url(#hy)"/>
<rect x="369.52" y="208.75" width="4.9" height="1.75" fill="url(#hr)"/>
<rect x="374.42" y="206.99" width="4.9" height="3.51" fill="url(#hg)"/>
<rect x="379.32" y="206.11" width="4.9" height="4.39" fill="url(#hy)"/>
<rect x="390.05" y="206.11" width="4.9" height="4.39" fill="url(#hr)"/>
<rect x="394.95" y="204.18" width="4.9" height="6.32" fill="url(#hg)"/>
<rect x="399.85" y="206.11" width="4.9" height="4.39" fill="url(#hy)"/>
<rect x="410.58" y="206.11" width="4.9" height="4.39" fill="url(#hr)"/>
<rect x="415.48" y="207.69" width="4.9" height="2.81" fill="url(#hg)"/>
<rect x="420.38" y="205.24" width="4.9" height="5.26" fill="url(#hy)"/>
<rect x="304.7" y="175.4" width="123.20" height="35.10" fill="none" stroke="#a6a6a6" stroke-width="0.7"/>
<line x1="302.7" y1="175.40" x2="304.7" y2="175.40" stroke="#a6a6a6" stroke-width="0.6"/>
<line x1="302.7" y1="184.18" x2="304.7" y2="184.18" stroke="#a6a6a6" stroke-width="0.6"/>
<line x1="302.7" y1="192.95" x2="304.7" y2="192.95" stroke="#a6a6a6" stroke-width="0.6"/>
<line x1="302.7" y1="201.72" x2="304.7" y2="201.72" stroke="#a6a6a6" stroke-width="0.6"/>
<line x1="302.7" y1="210.50" x2="304.7" y2="210.50" stroke="#a6a6a6" stroke-width="0.6"/>
<text x="299.10" y="178.08" font-family="'Liberation Serif', serif" font-weight="bold" font-size="7.0" fill="#000" text-anchor="end" stroke="#000" stroke-width="0.22">1.0</text>
<text x="299.10" y="186.86" font-family="'Liberation Serif', serif" font-weight="bold" font-size="7.0" fill="#000" text-anchor="end" stroke="#000" stroke-width="0.22">0.8</text>
<text x="299.10" y="195.63" font-family="'Liberation Serif', serif" font-weight="bold" font-size="7.0" fill="#000" text-anchor="end" stroke="#000" stroke-width="0.22">0.5</text>
<text x="299.10" y="204.41" font-family="'Liberation Serif', serif" font-weight="bold" font-size="7.0" fill="#000" text-anchor="end" stroke="#000" stroke-width="0.22">0.3</text>
<text x="299.10" y="213.18" font-family="'Liberation Serif', serif" font-weight="bold" font-size="7.0" fill="#000" text-anchor="end" stroke="#000" stroke-width="0.22">0.0</text>
<rect x="322.0" y="178.40" width="3.6" height="3.6" fill="url(#hr)"/>
<text x="326.60" y="182.44" font-family="'Liberation Serif', serif" font-weight="normal" font-size="6.6" fill="#000" text-anchor="start">IG=1</text>
<rect x="358.3" y="178.40" width="3.6" height="3.6" fill="url(#hg)"/>
<text x="363.60" y="182.44" font-family="'Liberation Serif', serif" font-weight="normal" font-size="6.6" fill="#000" text-anchor="start">IG=2</text>
<rect x="393.7" y="178.40" width="3.6" height="3.6" fill="url(#hy)"/>
<text x="399.40" y="182.44" font-family="'Liberation Serif', serif" font-weight="normal" font-size="6.6" fill="#000" text-anchor="start">IG=3</text>
<text x="315.27" y="220.98" font-family="'Liberation Serif', serif" font-weight="bold" font-size="6.7" fill="#000" text-anchor="middle" stroke="#000" stroke-width="0.22">Txx</text>
<text x="335.80" y="220.98" font-family="'Liberation Serif', serif" font-weight="bold" font-size="6.7" fill="#000" text-anchor="middle" stroke="#000" stroke-width="0.22">Tyy</text>
<text x="356.33" y="220.98" font-family="'Liberation Serif', serif" font-weight="bold" font-size="6.7" fill="#000" text-anchor="middle" stroke="#000" stroke-width="0.22">Tzz</text>
<text x="376.87" y="220.98" font-family="'Liberation Serif', serif" font-weight="bold" font-size="6.7" fill="#000" text-anchor="middle" stroke="#000" stroke-width="0.22">Txy</text>
<text x="397.40" y="220.98" font-family="'Liberation Serif', serif" font-weight="bold" font-size="6.7" fill="#000" text-anchor="middle" stroke="#000" stroke-width="0.22">Txz</text>
<text x="417.93" y="220.98" font-family="'Liberation Serif', serif" font-weight="bold" font-size="6.7" fill="#000" text-anchor="middle" stroke="#000" stroke-width="0.22">Tyz</text>
<text x="366.50" y="229.48" font-family="'Liberation Serif', serif" font-weight="normal" font-size="7" fill="#000" text-anchor="middle">Fiber orientation tensor direction [-]</text>
<text x="0" y="0" transform="translate(284.80,194.95) rotate(-90)" font-family="'Liberation Serif', serif" font-size="6.9" text-anchor="middle" stroke="#000" stroke-width="0.12">Magnitude [-]</text>
<text x="0" y="0" transform="translate(273.10,196.95) rotate(-90)" font-family="'Liberation Serif', serif" font-weight="bold" font-size="7.4" fill="#ff0000" stroke="#ff0000" stroke-width="0.25" text-anchor="middle" textLength="36.6" lengthAdjust="spacingAndGlyphs">WORST IG</text>
<line x1="304.7" y1="273.12" x2="427.9" y2="273.12" stroke="#d9d9d9" stroke-width="0.6"/>
<line x1="304.7" y1="281.85" x2="427.9" y2="281.85" stroke="#d9d9d9" stroke-width="0.6"/>
<line x1="304.7" y1="290.57" x2="427.9" y2="290.57" stroke="#d9d9d9" stroke-width="0.6"/>
<rect x="307.92" y="286.74" width="4.9" height="12.56" fill="url(#hr)"/>
<rect x="312.82" y="290.23" width="4.9" height="9.07" fill="url(#hg)"/>
<rect x="317.72" y="281.15" width="4.9" height="18.15" fill="url(#hy)"/>
<rect x="328.45" y="295.11" width="4.9" height="4.19" fill="url(#hr)"/>
<rect x="333.35" y="293.72" width="4.9" height="5.58" fill="url(#hg)"/>
<rect x="338.25" y="293.72" width="4.9" height="5.58" fill="url(#hy)"/>
<rect x="348.98" y="279.90" width="4.9" height="19.40" fill="url(#hr)"/>
<rect x="353.88" y="277.66" width="4.9" height="21.64" fill="url(#hg)"/>
<rect x="358.78" y="286.04" width="4.9" height="13.26" fill="url(#hy)"/>
<rect x="369.52" y="297.21" width="4.9" height="2.09" fill="url(#hr)"/>
<rect x="374.42" y="296.86" width="4.9" height="2.44" fill="url(#hg)"/>
<rect x="379.32" y="295.11" width="4.9" height="4.19" fill="url(#hy)"/>
<rect x="390.05" y="290.92" width="4.9" height="8.38" fill="url(#hr)"/>
<rect x="394.95" y="292.67" width="4.9" height="6.63" fill="url(#hg)"/>
<rect x="399.85" y="290.23" width="4.9" height="9.07" fill="url(#hy)"/>
<rect x="410.58" y="296.16" width="4.9" height="3.14" fill="url(#hr)"/>
<rect x="415.48" y="295.11" width="4.9" height="4.19" fill="url(#hg)"/>
<rect x="420.38" y="296.16" width="4.9" height="3.14" fill="url(#hy)"/>
<rect x="304.7" y="264.4" width="123.20" height="34.90" fill="none" stroke="#a6a6a6" stroke-width="0.7"/>
<line x1="302.7" y1="264.40" x2="304.7" y2="264.40" stroke="#a6a6a6" stroke-width="0.6"/>
<line x1="302.7" y1="273.12" x2="304.7" y2="273.12" stroke="#a6a6a6" stroke-width="0.6"/>
<line x1="302.7" y1="281.85" x2="304.7" y2="281.85" stroke="#a6a6a6" stroke-width="0.6"/>
<line x1="302.7" y1="290.57" x2="304.7" y2="290.57" stroke="#a6a6a6" stroke-width="0.6"/>
<line x1="302.7" y1="299.30" x2="304.7" y2="299.30" stroke="#a6a6a6" stroke-width="0.6"/>
<text x="299.10" y="267.08" font-family="'Liberation Serif', serif" font-weight="bold" font-size="7.0" fill="#000" text-anchor="end" stroke="#000" stroke-width="0.22">1.0</text>
<text x="299.10" y="275.81" font-family="'Liberation Serif', serif" font-weight="bold" font-size="7.0" fill="#000" text-anchor="end" stroke="#000" stroke-width="0.22">0.8</text>
<text x="299.10" y="284.53" font-family="'Liberation Serif', serif" font-weight="bold" font-size="7.0" fill="#000" text-anchor="end" stroke="#000" stroke-width="0.22">0.5</text>
<text x="299.10" y="293.25" font-family="'Liberation Serif', serif" font-weight="bold" font-size="7.0" fill="#000" text-anchor="end" stroke="#000" stroke-width="0.22">0.3</text>
<text x="299.10" y="301.98" font-family="'Liberation Serif', serif" font-weight="bold" font-size="7.0" fill="#000" text-anchor="end" stroke="#000" stroke-width="0.22">0.0</text>
<rect x="322.0" y="267.40" width="3.6" height="3.6" fill="url(#hr)"/>
<text x="326.60" y="271.44" font-family="'Liberation Serif', serif" font-weight="normal" font-size="6.6" fill="#000" text-anchor="start">IG=1</text>
<rect x="358.3" y="267.40" width="3.6" height="3.6" fill="url(#hg)"/>
<text x="363.60" y="271.44" font-family="'Liberation Serif', serif" font-weight="normal" font-size="6.6" fill="#000" text-anchor="start">IG=2</text>
<rect x="393.7" y="267.40" width="3.6" height="3.6" fill="url(#hy)"/>
<text x="399.40" y="271.44" font-family="'Liberation Serif', serif" font-weight="normal" font-size="6.6" fill="#000" text-anchor="start">IG=3</text>
<text x="315.27" y="309.78" font-family="'Liberation Serif', serif" font-weight="bold" font-size="6.7" fill="#000" text-anchor="middle" stroke="#000" stroke-width="0.22">Txx</text>
<text x="335.80" y="309.78" font-family="'Liberation Serif', serif" font-weight="bold" font-size="6.7" fill="#000" text-anchor="middle" stroke="#000" stroke-width="0.22">Tyy</text>
<text x="356.33" y="309.78" font-family="'Liberation Serif', serif" font-weight="bold" font-size="6.7" fill="#000" text-anchor="middle" stroke="#000" stroke-width="0.22">Tzz</text>
<text x="376.87" y="309.78" font-family="'Liberation Serif', serif" font-weight="bold" font-size="6.7" fill="#000" text-anchor="middle" stroke="#000" stroke-width="0.22">Txy</text>
<text x="397.40" y="309.78" font-family="'Liberation Serif', serif" font-weight="bold" font-size="6.7" fill="#000" text-anchor="middle" stroke="#000" stroke-width="0.22">Txz</text>
<text x="417.93" y="309.78" font-family="'Liberation Serif', serif" font-weight="bold" font-size="6.7" fill="#000" text-anchor="middle" stroke="#000" stroke-width="0.22">Tyz</text>
<text x="366.50" y="318.28" font-family="'Liberation Serif', serif" font-weight="normal" font-size="7" fill="#000" text-anchor="middle">Fiber orientation tensor direction [-]</text>
<text x="0" y="0" transform="translate(284.80,283.85) rotate(-90)" font-family="'Liberation Serif', serif" font-size="6.9" text-anchor="middle" stroke="#000" stroke-width="0.12">Magnitude [-]</text>
<text x="0" y="0" transform="translate(273.10,284.85) rotate(-90)" font-family="'Liberation Serif', serif" font-weight="bold" font-size="7.4" fill="#00b050" stroke="#00b050" stroke-width="0.25" text-anchor="middle" textLength="27" lengthAdjust="spacingAndGlyphs">BEST IG</text>
<line x1="304.7" y1="333.12" x2="427.9" y2="333.12" stroke="#d9d9d9" stroke-width="0.6"/>
<line x1="304.7" y1="341.85" x2="427.9" y2="341.85" stroke="#d9d9d9" stroke-width="0.6"/>
<line x1="304.7" y1="350.57" x2="427.9" y2="350.57" stroke="#d9d9d9" stroke-width="0.6"/>
<rect x="307.92" y="348.83" width="4.9" height="10.47" fill="url(#hr)"/>
<rect x="312.82" y="338.36" width="4.9" height="20.94" fill="url(#hg)"/>
<rect x="317.72" y="346.39" width="4.9" height="12.91" fill="url(#hy)"/>
<rect x="328.45" y="356.02" width="4.9" height="3.28" fill="url(#hr)"/>
<rect x="333.35" y="353.37" width="4.9" height="5.93" fill="url(#hg)"/>
<rect x="338.25" y="350.23" width="4.9" height="9.07" fill="url(#hy)"/>
<rect x="348.98" y="338.36" width="4.9" height="20.94" fill="url(#hr)"/>
<rect x="353.88" y="350.92" width="4.9" height="8.38" fill="url(#hg)"/>
<rect x="358.78" y="346.74" width="4.9" height="12.56" fill="url(#hy)"/>
<rect x="369.52" y="358.08" width="4.9" height="1.22" fill="url(#hr)"/>
<rect x="374.42" y="355.11" width="4.9" height="4.19" fill="url(#hg)"/>
<rect x="379.32" y="355.11" width="4.9" height="4.19" fill="url(#hy)"/>
<rect x="390.05" y="355.98" width="4.9" height="3.32" fill="url(#hr)"/>
<rect x="394.95" y="354.41" width="4.9" height="4.89" fill="url(#hg)"/>
<rect x="399.85" y="355.11" width="4.9" height="4.19" fill="url(#hy)"/>
<rect x="410.58" y="355.98" width="4.9" height="3.32" fill="url(#hr)"/>
<rect x="415.48" y="357.21" width="4.9" height="2.09" fill="url(#hg)"/>
<rect x="420.38" y="355.98" width="4.9" height="3.32" fill="url(#hy)"/>
<rect x="304.7" y="324.4" width="123.20" height="34.90" fill="none" stroke="#a6a6a6" stroke-width="0.7"/>
<line x1="302.7" y1="324.40" x2="304.7" y2="324.40" stroke="#a6a6a6" stroke-width="0.6"/>
<line x1="302.7" y1="333.12" x2="304.7" y2="333.12" stroke="#a6a6a6" stroke-width="0.6"/>
<line x1="302.7" y1="341.85" x2="304.7" y2="341.85" stroke="#a6a6a6" stroke-width="0.6"/>
<line x1="302.7" y1="350.57" x2="304.7" y2="350.57" stroke="#a6a6a6" stroke-width="0.6"/>
<line x1="302.7" y1="359.30" x2="304.7" y2="359.30" stroke="#a6a6a6" stroke-width="0.6"/>
<text x="299.10" y="327.08" font-family="'Liberation Serif', serif" font-weight="bold" font-size="7.0" fill="#000" text-anchor="end" stroke="#000" stroke-width="0.22">1.0</text>
<text x="299.10" y="335.81" font-family="'Liberation Serif', serif" font-weight="bold" font-size="7.0" fill="#000" text-anchor="end" stroke="#000" stroke-width="0.22">0.8</text>
<text x="299.10" y="344.53" font-family="'Liberation Serif', serif" font-weight="bold" font-size="7.0" fill="#000" text-anchor="end" stroke="#000" stroke-width="0.22">0.5</text>
<text x="299.10" y="353.25" font-family="'Liberation Serif', serif" font-weight="bold" font-size="7.0" fill="#000" text-anchor="end" stroke="#000" stroke-width="0.22">0.3</text>
<text x="299.10" y="361.98" font-family="'Liberation Serif', serif" font-weight="bold" font-size="7.0" fill="#000" text-anchor="end" stroke="#000" stroke-width="0.22">0.0</text>
<rect x="322.0" y="327.40" width="3.6" height="3.6" fill="url(#hr)"/>
<text x="326.60" y="331.44" font-family="'Liberation Serif', serif" font-weight="normal" font-size="6.6" fill="#000" text-anchor="start">IG=1</text>
<rect x="358.3" y="327.40" width="3.6" height="3.6" fill="url(#hg)"/>
<text x="363.60" y="331.44" font-family="'Liberation Serif', serif" font-weight="normal" font-size="6.6" fill="#000" text-anchor="start">IG=2</text>
<rect x="393.7" y="327.40" width="3.6" height="3.6" fill="url(#hy)"/>
<text x="399.40" y="331.44" font-family="'Liberation Serif', serif" font-weight="normal" font-size="6.6" fill="#000" text-anchor="start">IG=3</text>
<text x="315.27" y="369.78" font-family="'Liberation Serif', serif" font-weight="bold" font-size="6.7" fill="#000" text-anchor="middle" stroke="#000" stroke-width="0.22">Txx</text>
<text x="335.80" y="369.78" font-family="'Liberation Serif', serif" font-weight="bold" font-size="6.7" fill="#000" text-anchor="middle" stroke="#000" stroke-width="0.22">Tyy</text>
<text x="356.33" y="369.78" font-family="'Liberation Serif', serif" font-weight="bold" font-size="6.7" fill="#000" text-anchor="middle" stroke="#000" stroke-width="0.22">Tzz</text>
<text x="376.87" y="369.78" font-family="'Liberation Serif', serif" font-weight="bold" font-size="6.7" fill="#000" text-anchor="middle" stroke="#000" stroke-width="0.22">Txy</text>
<text x="397.40" y="369.78" font-family="'Liberation Serif', serif" font-weight="bold" font-size="6.7" fill="#000" text-anchor="middle" stroke="#000" stroke-width="0.22">Txz</text>
<text x="417.93" y="369.78" font-family="'Liberation Serif', serif" font-weight="bold" font-size="6.7" fill="#000" text-anchor="middle" stroke="#000" stroke-width="0.22">Tyz</text>
<text x="366.50" y="378.28" font-family="'Liberation Serif', serif" font-weight="normal" font-size="7" fill="#000" text-anchor="middle">Fiber orientation tensor direction [-]</text>
<text x="0" y="0" transform="translate(284.80,343.85) rotate(-90)" font-family="'Liberation Serif', serif" font-size="6.9" text-anchor="middle" stroke="#000" stroke-width="0.12">Magnitude [-]</text>
<text x="0" y="0" transform="translate(273.10,345.85) rotate(-90)" font-family="'Liberation Serif', serif" font-weight="bold" font-size="7.4" fill="#ff0000" stroke="#ff0000" stroke-width="0.25" text-anchor="middle" textLength="36.6" lengthAdjust="spacingAndGlyphs">WORST IG</text>
<line x1="304.7" y1="420.02" x2="427.9" y2="420.02" stroke="#d9d9d9" stroke-width="0.6"/>
<line x1="304.7" y1="428.85" x2="427.9" y2="428.85" stroke="#d9d9d9" stroke-width="0.6"/>
<line x1="304.7" y1="437.68" x2="427.9" y2="437.68" stroke="#d9d9d9" stroke-width="0.6"/>
<rect x="307.92" y="433.90" width="4.9" height="12.60" fill="url(#hr)"/>
<rect x="312.82" y="434.85" width="4.9" height="11.65" fill="url(#hg)"/>
<rect x="317.72" y="436.62" width="4.9" height="9.88" fill="url(#hy)"/>
<rect x="328.45" y="434.14" width="4.9" height="12.36" fill="url(#hr)"/>
<rect x="333.35" y="433.09" width="4.9" height="13.41" fill="url(#hg)"/>
<rect x="338.25" y="430.40" width="4.9" height="16.10" fill="url(#hy)"/>
<rect x="348.98" y="435.20" width="4.9" height="11.30" fill="url(#hr)"/>
<rect x="353.88" y="435.20" width="4.9" height="11.30" fill="url(#hg)"/>
<rect x="358.78" y="437.68" width="4.9" height="8.83" fill="url(#hy)"/>
<rect x="369.52" y="438.38" width="4.9" height="8.12" fill="url(#hr)"/>
<rect x="374.42" y="438.03" width="4.9" height="8.47" fill="url(#hg)"/>
<rect x="379.32" y="438.38" width="4.9" height="8.12" fill="url(#hy)"/>
<rect x="390.05" y="435.91" width="4.9" height="10.59" fill="url(#hr)"/>
<rect x="394.95" y="436.97" width="4.9" height="9.53" fill="url(#hg)"/>
<rect x="399.85" y="439.09" width="4.9" height="7.41" fill="url(#hy)"/>
<rect x="410.58" y="439.09" width="4.9" height="7.41" fill="url(#hr)"/>
<rect x="415.48" y="437.68" width="4.9" height="8.83" fill="url(#hg)"/>
<rect x="420.38" y="439.09" width="4.9" height="7.41" fill="url(#hy)"/>
<rect x="304.7" y="411.2" width="123.20" height="35.30" fill="none" stroke="#a6a6a6" stroke-width="0.7"/>
<line x1="302.7" y1="411.20" x2="304.7" y2="411.20" stroke="#a6a6a6" stroke-width="0.6"/>
<line x1="302.7" y1="420.02" x2="304.7" y2="420.02" stroke="#a6a6a6" stroke-width="0.6"/>
<line x1="302.7" y1="428.85" x2="304.7" y2="428.85" stroke="#a6a6a6" stroke-width="0.6"/>
<line x1="302.7" y1="437.68" x2="304.7" y2="437.68" stroke="#a6a6a6" stroke-width="0.6"/>
<line x1="302.7" y1="446.50" x2="304.7" y2="446.50" stroke="#a6a6a6" stroke-width="0.6"/>
<text x="299.10" y="413.88" font-family="'Liberation Serif', serif" font-weight="bold" font-size="7.0" fill="#000" text-anchor="end" stroke="#000" stroke-width="0.22">1.0</text>
<text x="299.10" y="422.70" font-family="'Liberation Serif', serif" font-weight="bold" font-size="7.0" fill="#000" text-anchor="end" stroke="#000" stroke-width="0.22">0.8</text>
<text x="299.10" y="431.53" font-family="'Liberation Serif', serif" font-weight="bold" font-size="7.0" fill="#000" text-anchor="end" stroke="#000" stroke-width="0.22">0.5</text>
<text x="299.10" y="440.36" font-family="'Liberation Serif', serif" font-weight="bold" font-size="7.0" fill="#000" text-anchor="end" stroke="#000" stroke-width="0.22">0.3</text>
<text x="299.10" y="449.18" font-family="'Liberation Serif', serif" font-weight="bold" font-size="7.0" fill="#000" text-anchor="end" stroke="#000" stroke-width="0.22">0.0</text>
<rect x="322.0" y="414.20" width="3.6" height="3.6" fill="url(#hr)"/>
<text x="326.60" y="418.24" font-family="'Liberation Serif', serif" font-weight="normal" font-size="6.6" fill="#000" text-anchor="start">IG=1</text>
<rect x="358.3" y="414.20" width="3.6" height="3.6" fill="url(#hg)"/>
<text x="363.60" y="418.24" font-family="'Liberation Serif', serif" font-weight="normal" font-size="6.6" fill="#000" text-anchor="start">IG=2</text>
<rect x="393.7" y="414.20" width="3.6" height="3.6" fill="url(#hy)"/>
<text x="399.40" y="418.24" font-family="'Liberation Serif', serif" font-weight="normal" font-size="6.6" fill="#000" text-anchor="start">IG=3</text>
<text x="315.27" y="456.98" font-family="'Liberation Serif', serif" font-weight="bold" font-size="6.7" fill="#000" text-anchor="middle" stroke="#000" stroke-width="0.22">Txx</text>
<text x="335.80" y="456.98" font-family="'Liberation Serif', serif" font-weight="bold" font-size="6.7" fill="#000" text-anchor="middle" stroke="#000" stroke-width="0.22">Tyy</text>
<text x="356.33" y="456.98" font-family="'Liberation Serif', serif" font-weight="bold" font-size="6.7" fill="#000" text-anchor="middle" stroke="#000" stroke-width="0.22">Tzz</text>
<text x="376.87" y="456.98" font-family="'Liberation Serif', serif" font-weight="bold" font-size="6.7" fill="#000" text-anchor="middle" stroke="#000" stroke-width="0.22">Txy</text>
<text x="397.40" y="456.98" font-family="'Liberation Serif', serif" font-weight="bold" font-size="6.7" fill="#000" text-anchor="middle" stroke="#000" stroke-width="0.22">Txz</text>
<text x="417.93" y="456.98" font-family="'Liberation Serif', serif" font-weight="bold" font-size="6.7" fill="#000" text-anchor="middle" stroke="#000" stroke-width="0.22">Tyz</text>
<text x="366.50" y="465.48" font-family="'Liberation Serif', serif" font-weight="normal" font-size="7" fill="#000" text-anchor="middle">Fiber orientation tensor direction [-]</text>
<text x="0" y="0" transform="translate(284.80,430.85) rotate(-90)" font-family="'Liberation Serif', serif" font-size="6.9" text-anchor="middle" stroke="#000" stroke-width="0.12">Magnitude [-]</text>
<text x="0" y="0" transform="translate(273.10,431.85) rotate(-90)" font-family="'Liberation Serif', serif" font-weight="bold" font-size="7.4" fill="#00b050" stroke="#00b050" stroke-width="0.25" text-anchor="middle" textLength="27" lengthAdjust="spacingAndGlyphs">BEST IG</text>
<line x1="304.7" y1="482.45" x2="427.9" y2="482.45" stroke="#d9d9d9" stroke-width="0.6"/>
<line x1="304.7" y1="491.30" x2="427.9" y2="491.30" stroke="#d9d9d9" stroke-width="0.6"/>
<line x1="304.7" y1="500.15" x2="427.9" y2="500.15" stroke="#d9d9d9" stroke-width="0.6"/>
<rect x="307.92" y="497.32" width="4.9" height="11.68" fill="url(#hr)"/>
<rect x="312.82" y="502.98" width="4.9" height="6.02" fill="url(#hg)"/>
<rect x="317.72" y="498.03" width="4.9" height="10.97" fill="url(#hy)"/>
<rect x="328.45" y="496.08" width="4.9" height="12.92" fill="url(#hr)"/>
<rect x="333.35" y="484.93" width="4.9" height="24.07" fill="url(#hg)"/>
<rect x="338.25" y="494.84" width="4.9" height="14.16" fill="url(#hy)"/>
<rect x="348.98" y="496.96" width="4.9" height="12.04" fill="url(#hr)"/>
<rect x="353.88" y="501.57" width="4.9" height="7.43" fill="url(#hg)"/>
<rect x="358.78" y="498.03" width="4.9" height="10.97" fill="url(#hy)"/>
<rect x="369.52" y="503.69" width="4.9" height="5.31" fill="url(#hr)"/>
<rect x="374.42" y="503.69" width="4.9" height="5.31" fill="url(#hg)"/>
<rect x="379.32" y="503.69" width="4.9" height="5.31" fill="url(#hy)"/>
<rect x="390.05" y="500.15" width="4.9" height="8.85" fill="url(#hr)"/>
<rect x="394.95" y="505.81" width="4.9" height="3.19" fill="url(#hg)"/>
<rect x="399.85" y="500.15" width="4.9" height="8.85" fill="url(#hy)"/>
<rect x="410.58" y="504.40" width="4.9" height="4.60" fill="url(#hr)"/>
<rect x="415.48" y="503.69" width="4.9" height="5.31" fill="url(#hg)"/>
<rect x="420.38" y="504.40" width="4.9" height="4.60" fill="url(#hy)"/>
<rect x="304.7" y="473.6" width="123.20" height="35.40" fill="none" stroke="#a6a6a6" stroke-width="0.7"/>
<line x1="302.7" y1="473.60" x2="304.7" y2="473.60" stroke="#a6a6a6" stroke-width="0.6"/>
<line x1="302.7" y1="482.45" x2="304.7" y2="482.45" stroke="#a6a6a6" stroke-width="0.6"/>
<line x1="302.7" y1="491.30" x2="304.7" y2="491.30" stroke="#a6a6a6" stroke-width="0.6"/>
<line x1="302.7" y1="500.15" x2="304.7" y2="500.15" stroke="#a6a6a6" stroke-width="0.6"/>
<line x1="302.7" y1="509.00" x2="304.7" y2="509.00" stroke="#a6a6a6" stroke-width="0.6"/>
<text x="299.10" y="476.28" font-family="'Liberation Serif', serif" font-weight="bold" font-size="7.0" fill="#000" text-anchor="end" stroke="#000" stroke-width="0.22">1.0</text>
<text x="299.10" y="485.13" font-family="'Liberation Serif', serif" font-weight="bold" font-size="7.0" fill="#000" text-anchor="end" stroke="#000" stroke-width="0.22">0.8</text>
<text x="299.10" y="493.98" font-family="'Liberation Serif', serif" font-weight="bold" font-size="7.0" fill="#000" text-anchor="end" stroke="#000" stroke-width="0.22">0.5</text>
<text x="299.10" y="502.83" font-family="'Liberation Serif', serif" font-weight="bold" font-size="7.0" fill="#000" text-anchor="end" stroke="#000" stroke-width="0.22">0.3</text>
<text x="299.10" y="511.68" font-family="'Liberation Serif', serif" font-weight="bold" font-size="7.0" fill="#000" text-anchor="end" stroke="#000" stroke-width="0.22">0.0</text>
<rect x="322.0" y="476.60" width="3.6" height="3.6" fill="url(#hr)"/>
<text x="326.60" y="480.64" font-family="'Liberation Serif', serif" font-weight="normal" font-size="6.6" fill="#000" text-anchor="start">IG=1</text>
<rect x="358.3" y="476.60" width="3.6" height="3.6" fill="url(#hg)"/>
<text x="363.60" y="480.64" font-family="'Liberation Serif', serif" font-weight="normal" font-size="6.6" fill="#000" text-anchor="start">IG=2</text>
<rect x="393.7" y="476.60" width="3.6" height="3.6" fill="url(#hy)"/>
<text x="399.40" y="480.64" font-family="'Liberation Serif', serif" font-weight="normal" font-size="6.6" fill="#000" text-anchor="start">IG=3</text>
<text x="315.27" y="519.48" font-family="'Liberation Serif', serif" font-weight="bold" font-size="6.7" fill="#000" text-anchor="middle" stroke="#000" stroke-width="0.22">Txx</text>
<text x="335.80" y="519.48" font-family="'Liberation Serif', serif" font-weight="bold" font-size="6.7" fill="#000" text-anchor="middle" stroke="#000" stroke-width="0.22">Tyy</text>
<text x="356.33" y="519.48" font-family="'Liberation Serif', serif" font-weight="bold" font-size="6.7" fill="#000" text-anchor="middle" stroke="#000" stroke-width="0.22">Tzz</text>
<text x="376.87" y="519.48" font-family="'Liberation Serif', serif" font-weight="bold" font-size="6.7" fill="#000" text-anchor="middle" stroke="#000" stroke-width="0.22">Txy</text>
<text x="397.40" y="519.48" font-family="'Liberation Serif', serif" font-weight="bold" font-size="6.7" fill="#000" text-anchor="middle" stroke="#000" stroke-width="0.22">Txz</text>
<text x="417.93" y="519.48" font-family="'Liberation Serif', serif" font-weight="bold" font-size="6.7" fill="#000" text-anchor="middle" stroke="#000" stroke-width="0.22">Tyz</text>
<text x="366.50" y="527.98" font-family="'Liberation Serif', serif" font-weight="normal" font-size="7" fill="#000" text-anchor="middle">Fiber orientation tensor direction [-]</text>
<text x="0" y="0" transform="translate(284.80,493.30) rotate(-90)" font-family="'Liberation Serif', serif" font-size="6.9" text-anchor="middle" stroke="#000" stroke-width="0.12">Magnitude [-]</text>
<text x="0" y="0" transform="translate(273.10,495.30) rotate(-90)" font-family="'Liberation Serif', serif" font-weight="bold" font-size="7.4" fill="#ff0000" stroke="#ff0000" stroke-width="0.25" text-anchor="middle" textLength="36.6" lengthAdjust="spacingAndGlyphs">WORST IG</text>
<g filter="url(#femf0)">
<g transform="translate(0.0,0.0)">
<polygon points="94.5,118.8 103.0,119.0 112.0,115.5 121.9,111.5 124.0,109.0 127.0,107.7 133.4,107.0 138.5,109.0 141.5,112.5 143.0,116.6 143.6,124.3 141.0,130.7 138.0,133.0 134.7,134.5 129.5,133.9 127.0,134.0 131.0,140.0 136.5,145.0 139.8,149.5 141.7,156.0 141.7,162.0 136.9,165.7 128.0,169.0 117.6,172.9 108.0,177.0 97.0,180.8 89.0,180.3 81.3,178.5 73.5,174.0 68.0,174.4 61.6,174.4 58.8,174.9 56.0,174.3 53.4,172.7 51.3,170.3 49.8,167.2 48.9,163.6 48.9,159.9 49.6,156.3 51.1,153.1 53.1,150.5 55.0,147.5 62.0,141.5 70.0,135.2 81.3,127.2 88.5,122.0" fill="rgb(93,242,120)"/>
<polygon points="94.5,118.8 88.5,122.0 81.3,127.2 70.0,135.2 62.0,141.5 53.0,147.5 60.0,150.0 68.0,152.0 75.0,162.0 73.5,174.0 81.3,178.5 89.0,180.3 93.5,180.6 93.0,123.0" fill="url(#lf_m0)"/>
<polygon points="94.5,118.8 100.0,121.0 125.5,134.8 131.0,140.0 136.5,145.0 139.8,149.5 141.7,156.0 141.7,162.0 136.9,165.7 128.0,169.0 117.6,172.9 108.0,177.0 97.0,180.8 98.5,123.0" fill="url(#rf_m0)"/>
<polygon points="97.0,121.5 103.0,119.0 112.0,115.5 121.9,111.5 125.7,132.0 118.0,129.5 108.0,126.0 100.0,124.0" fill="url(#cy_m0)"/>
<polygon points="121.9,111.5 124.0,109.0 127.0,107.7 133.4,107.0 138.5,109.0 141.5,112.5 143.0,116.6 143.6,124.3 141.0,130.7 138.0,133.0 134.7,134.5 129.5,133.9 125.7,132.0" fill="rgb(130,230,76)"/>
<polygon points="123.0,110.5 127.0,108.3 133.4,107.6 138.5,109.6 138.5,113.0 126.0,114.0 123.5,115.0" fill="rgb(115,247,51)"/>
<polygon points="124.5,127.0 131.0,129.0 137.0,130.0 136.0,133.5 130.0,134.0 126.0,132.5" fill="rgb(126,199,64)"/>
<polygon points="130.2,108.0 132.2,108.0 133.0,120.0 132.4,133.5 130.4,133.5 131.0,120.0" fill="rgb(172,235,64)"/>
<ellipse cx="139.8" cy="120.6" rx="3.7" ry="12.6" fill="rgb(94,247,56)"/>
<ellipse cx="140.1" cy="120.6" rx="2.2" ry="9.6" fill="rgb(121,230,64)"/>
<polygon points="58.4,149.3 64.0,146.5 70.0,147.5 76.0,151.0 77.0,168.0 72.0,173.5 66.0,175.0 58.4,174.5" fill="rgb(88,230,120)"/>
<ellipse cx="62.2" cy="161.3" rx="10.2" ry="13.200000000000001" fill="rgb(99,224,76)"/>
<ellipse cx="59.0" cy="161.5" rx="10.2" ry="13.4" fill="rgb(89,242,76)"/>
<ellipse cx="59.3" cy="161.8" rx="8.2" ry="11.0" fill="rgb(124,230,89)"/>
<ellipse cx="59.3" cy="162.0" rx="6.8999999999999995" ry="9.2" fill="rgb(94,230,76)"/>
<ellipse cx="59.6" cy="162.8" rx="4.4" ry="6.6" fill="rgb(29,217,64)"/>
<polyline points="92.5,121.5 55.0,146.0" stroke="rgb(130,242,76)" stroke-width="3.2" fill="none"/>
<polyline points="93.0,119.8 53.0,145.5" stroke="rgb(92,255,51)" stroke-width="1.3" fill="none"/>
<polyline points="92.5,124.5 60.0,146.0" stroke="rgb(97,242,51)" stroke-width="1.0" fill="none"/>
<polyline points="99.5,122.5 139.5,151.0" stroke="rgb(135,242,76)" stroke-width="2.4" fill="none"/>
<polyline points="100.0,120.8 140.0,149.5" stroke="rgb(94,255,51)" stroke-width="1.0" fill="none"/>
<polyline points="103.0,119.6 112.0,116.0 121.9,112.0" stroke="rgb(94,255,51)" stroke-width="1.2" fill="none"/>
<polyline points="141.2,156.0 141.2,162.0" stroke="rgb(144,242,120)" stroke-width="1.2" fill="none"/>
<polygon points="92.2,122.0 100.2,122.0 100.2,180.5 92.2,180.5" fill="rgb(103,242,89)"/>
<polygon points="92.0,123.0 93.9,123.0 93.9,180.5 92.0,180.5" fill="rgb(199,242,76)"/>
<polygon points="98.0,123.0 100.0,123.0 100.0,181.0 98.0,181.0" fill="rgb(191,242,76)"/>
</g>
</g>
<g filter="url(#femf1)">
<g transform="translate(111.5,0.2)">
<polygon points="94.5,118.8 103.0,119.0 112.0,115.5 121.9,111.5 124.0,109.0 127.0,107.7 133.4,107.0 138.5,109.0 141.5,112.5 143.0,116.6 143.6,124.3 141.0,130.7 138.0,133.0 134.7,134.5 129.5,133.9 127.0,134.0 131.0,140.0 136.5,145.0 139.8,149.5 141.7,156.0 141.7,162.0 136.9,165.7 128.0,169.0 117.6,172.9 108.0,177.0 97.0,180.8 89.0,180.3 81.3,178.5 73.5,174.0 68.0,174.4 61.6,174.4 58.8,174.9 56.0,174.3 53.4,172.7 51.3,170.3 49.8,167.2 48.9,163.6 48.9,159.9 49.6,156.3 51.1,153.1 53.1,150.5 55.0,147.5 62.0,141.5 70.0,135.2 81.3,127.2 88.5,122.0" fill="rgb(112,242,120)"/>
<polygon points="94.5,118.8 88.5,122.0 81.3,127.2 70.0,135.2 62.0,141.5 53.0,147.5 60.0,150.0 68.0,152.0 75.0,162.0 73.5,174.0 81.3,178.5 89.0,180.3 93.5,180.6 93.0,123.0" fill="url(#lf_m1)"/>
<polygon points="94.5,118.8 100.0,121.0 125.5,134.8 131.0,140.0 136.5,145.0 139.8,149.5 141.7,156.0 141.7,162.0 136.9,165.7 128.0,169.0 117.6,172.9 108.0,177.0 97.0,180.8 98.5,123.0" fill="url(#rf_m1)"/>
<polygon points="97.0,121.5 103.0,119.0 112.0,115.5 121.9,111.5 125.7,132.0 118.0,129.5 108.0,126.0 100.0,124.0" fill="url(#cy_m1)"/>
<polygon points="121.9,111.5 124.0,109.0 127.0,107.7 133.4,107.0 138.5,109.0 141.5,112.5 143.0,116.6 143.6,124.3 141.0,130.7 138.0,133.0 134.7,134.5 129.5,133.9 125.7,132.0" fill="rgb(130,230,76)"/>
<polygon points="123.0,110.5 127.0,108.3 133.4,107.6 138.5,109.6 138.5,113.0 126.0,114.0 123.5,115.0" fill="rgb(115,247,51)"/>
<polygon points="124.5,127.0 131.0,129.0 137.0,130.0 136.0,133.5 130.0,134.0 126.0,132.5" fill="rgb(126,199,64)"/>
<polygon points="130.2,108.0 132.2,108.0 133.0,120.0 132.4,133.5 130.4,133.5 131.0,120.0" fill="rgb(172,235,64)"/>
<ellipse cx="139.8" cy="120.6" rx="3.7" ry="12.6" fill="rgb(94,247,56)"/>
<ellipse cx="140.1" cy="120.6" rx="2.2" ry="9.6" fill="rgb(121,230,64)"/>
<polygon points="58.4,149.3 64.0,146.5 70.0,147.5 76.0,151.0 77.0,168.0 72.0,173.5 66.0,175.0 58.4,174.5" fill="rgb(98,230,120)"/>
<ellipse cx="62.2" cy="161.3" rx="10.2" ry="13.200000000000001" fill="rgb(99,224,76)"/>
<ellipse cx="59.0" cy="161.5" rx="10.2" ry="13.4" fill="rgb(89,242,76)"/>
<ellipse cx="59.3" cy="161.8" rx="8.2" ry="11.0" fill="rgb(124,230,89)"/>
<ellipse cx="59.3" cy="162.0" rx="6.8999999999999995" ry="9.2" fill="rgb(94,230,76)"/>
<ellipse cx="59.6" cy="162.8" rx="4.4" ry="6.6" fill="rgb(70,217,64)"/>
<polyline points="92.5,121.5 55.0,146.0" stroke="rgb(130,242,76)" stroke-width="3.2" fill="none"/>
<polyline points="93.0,119.8 53.0,145.5" stroke="rgb(92,255,51)" stroke-width="1.3" fill="none"/>
<polyline points="92.5,124.5 60.0,146.0" stroke="rgb(97,242,51)" stroke-width="1.0" fill="none"/>
<polyline points="99.5,122.5 139.5,151.0" stroke="rgb(135,242,76)" stroke-width="2.4" fill="none"/>
<polyline points="100.0,120.8 140.0,149.5" stroke="rgb(94,255,51)" stroke-width="1.0" fill="none"/>
<polyline points="103.0,119.6 112.0,116.0 121.9,112.0" stroke="rgb(94,255,51)" stroke-width="1.2" fill="none"/>
<polyline points="141.2,156.0 141.2,162.0" stroke="rgb(144,242,120)" stroke-width="1.2" fill="none"/>
<polygon points="92.2,122.0 100.2,122.0 100.2,180.5 92.2,180.5" fill="rgb(122,242,89)"/>
<polygon points="92.0,123.0 93.9,123.0 93.9,180.5 92.0,180.5" fill="rgb(145,242,76)"/>
<polygon points="98.0,123.0 100.0,123.0 100.0,181.0 98.0,181.0" fill="rgb(138,242,76)"/>
</g>
</g>
<g filter="url(#femf2)">
<g transform="translate(-3.5,149.5)">
<polygon points="94.5,118.8 103.0,119.0 112.0,115.5 121.9,111.5 124.0,109.0 127.0,107.7 133.4,107.0 138.5,109.0 141.5,112.5 143.0,116.6 143.6,124.3 141.0,130.7 138.0,133.0 134.7,134.5 129.5,133.9 127.0,134.0 131.0,140.0 136.5,145.0 139.8,149.5 141.7,156.0 141.7,162.0 136.9,165.7 128.0,169.0 117.6,172.9 108.0,177.0 97.0,180.8 89.0,180.3 81.3,178.5 73.5,174.0 68.0,174.4 61.6,174.4 58.8,174.9 56.0,174.3 53.4,172.7 51.3,170.3 49.8,167.2 48.9,163.6 48.9,159.9 49.6,156.3 51.1,153.1 53.1,150.5 55.0,147.5 62.0,141.5 70.0,135.2 81.3,127.2 88.5,122.0" fill="rgb(108,242,120)"/>
<polygon points="94.5,118.8 88.5,122.0 81.3,127.2 70.0,135.2 62.0,141.5 53.0,147.5 60.0,150.0 68.0,152.0 75.0,162.0 73.5,174.0 81.3,178.5 89.0,180.3 93.5,180.6 93.0,123.0" fill="url(#lf_m2)"/>
<polygon points="94.5,118.8 100.0,121.0 125.5,134.8 131.0,140.0 136.5,145.0 139.8,149.5 141.7,156.0 141.7,162.0 136.9,165.7 128.0,169.0 117.6,172.9 108.0,177.0 97.0,180.8 98.5,123.0" fill="url(#rf_m2)"/>
<polygon points="97.0,121.5 103.0,119.0 112.0,115.5 121.9,111.5 125.7,132.0 118.0,129.5 108.0,126.0 100.0,124.0" fill="url(#cy_m2)"/>
<polygon points="121.9,111.5 124.0,109.0 127.0,107.7 133.4,107.0 138.5,109.0 141.5,112.5 143.0,116.6 143.6,124.3 141.0,130.7 138.0,133.0 134.7,134.5 129.5,133.9 125.7,132.0" fill="rgb(130,230,76)"/>
<polygon points="123.0,110.5 127.0,108.3 133.4,107.6 138.5,109.6 138.5,113.0 126.0,114.0 123.5,115.0" fill="rgb(115,247,51)"/>
<polygon points="124.5,127.0 131.0,129.0 137.0,130.0 136.0,133.5 130.0,134.0 126.0,132.5" fill="rgb(126,199,64)"/>
<polygon points="130.2,108.0 132.2,108.0 133.0,120.0 132.4,133.5 130.4,133.5 131.0,120.0" fill="rgb(172,235,64)"/>
<ellipse cx="139.8" cy="120.6" rx="3.7" ry="12.6" fill="rgb(94,247,56)"/>
<ellipse cx="140.1" cy="120.6" rx="2.2" ry="9.6" fill="rgb(121,230,64)"/>
<polygon points="58.4,149.3 64.0,146.5 70.0,147.5 76.0,151.0 77.0,168.0 72.0,173.5 66.0,175.0 58.4,174.5" fill="rgb(103,230,120)"/>
<ellipse cx="62.2" cy="161.3" rx="10.2" ry="13.200000000000001" fill="rgb(99,224,76)"/>
<ellipse cx="59.0" cy="161.5" rx="10.2" ry="13.4" fill="rgb(89,242,76)"/>
<ellipse cx="59.3" cy="161.8" rx="8.2" ry="11.0" fill="rgb(124,230,89)"/>
<ellipse cx="59.3" cy="162.0" rx="6.8999999999999995" ry="9.2" fill="rgb(94,230,76)"/>
<ellipse cx="59.6" cy="162.8" rx="4.4" ry="6.6" fill="rgb(24,217,64)"/>
<polyline points="92.5,121.5 55.0,146.0" stroke="rgb(130,242,76)" stroke-width="3.2" fill="none"/>
<polyline points="93.0,119.8 53.0,145.5" stroke="rgb(92,255,51)" stroke-width="1.3" fill="none"/>
<polyline points="92.5,124.5 60.0,146.0" stroke="rgb(97,242,51)" stroke-width="1.0" fill="none"/>
<polyline points="99.5,122.5 139.5,151.0" stroke="rgb(135,242,76)" stroke-width="2.4" fill="none"/>
<polyline points="100.0,120.8 140.0,149.5" stroke="rgb(94,255,51)" stroke-width="1.0" fill="none"/>
<polyline points="103.0,119.6 112.0,116.0 121.9,112.0" stroke="rgb(94,255,51)" stroke-width="1.2" fill="none"/>
<polyline points="141.2,156.0 141.2,162.0" stroke="rgb(144,242,120)" stroke-width="1.2" fill="none"/>
<polygon points="92.2,122.0 100.2,122.0 100.2,180.5 92.2,180.5" fill="rgb(119,242,89)"/>
<polygon points="92.0,123.0 93.9,123.0 93.9,180.5 92.0,180.5" fill="rgb(199,242,76)"/>
<polygon points="98.0,123.0 100.0,123.0 100.0,181.0 98.0,181.0" fill="rgb(191,242,76)"/>
</g>
</g>
<g filter="url(#femf3)">
<g transform="translate(112.5,149.2)">
<polygon points="94.5,118.8 103.0,119.0 112.0,115.5 121.9,111.5 124.0,109.0 127.0,107.7 133.4,107.0 138.5,109.0 141.5,112.5 143.0,116.6 143.6,124.3 141.0,130.7 138.0,133.0 134.7,134.5 129.5,133.9 127.0,134.0 131.0,140.0 136.5,145.0 139.8,149.5 141.7,156.0 141.7,162.0 136.9,165.7 128.0,169.0 117.6,172.9 108.0,177.0 97.0,180.8 89.0,180.3 81.3,178.5 73.5,174.0 68.0,174.4 61.6,174.4 58.8,174.9 56.0,174.3 53.4,172.7 51.3,170.3 49.8,167.2 48.9,163.6 48.9,159.9 49.6,156.3 51.1,153.1 53.1,150.5 55.0,147.5 62.0,141.5 70.0,135.2 81.3,127.2 88.5,122.0" fill="rgb(82,242,120)"/>
<polygon points="94.5,118.8 88.5,122.0 81.3,127.2 70.0,135.2 62.0,141.5 53.0,147.5 60.0,150.0 68.0,152.0 75.0,162.0 73.5,174.0 81.3,178.5 89.0,180.3 93.5,180.6 93.0,123.0" fill="url(#lf_m3)"/>
<polygon points="94.5,118.8 100.0,121.0 125.5,134.8 131.0,140.0 136.5,145.0 139.8,149.5 141.7,156.0 141.7,162.0 136.9,165.7 128.0,169.0 117.6,172.9 108.0,177.0 97.0,180.8 98.5,123.0" fill="url(#rf_m3)"/>
<polygon points="97.0,121.5 103.0,119.0 112.0,115.5 121.9,111.5 125.7,132.0 118.0,129.5 108.0,126.0 100.0,124.0" fill="url(#cy_m3)"/>
<polygon points="121.9,111.5 124.0,109.0 127.0,107.7 133.4,107.0 138.5,109.0 141.5,112.5 143.0,116.6 143.6,124.3 141.0,130.7 138.0,133.0 134.7,134.5 129.5,133.9 125.7,132.0" fill="rgb(130,230,76)"/>
<polygon points="123.0,110.5 127.0,108.3 133.4,107.6 138.5,109.6 138.5,113.0 126.0,114.0 123.5,115.0" fill="rgb(115,247,51)"/>
<polygon points="124.5,127.0 131.0,129.0 137.0,130.0 136.0,133.5 130.0,134.0 126.0,132.5" fill="rgb(126,199,64)"/>
<polygon points="130.2,108.0 132.2,108.0 133.0,120.0 132.4,133.5 130.4,133.5 131.0,120.0" fill="rgb(172,235,64)"/>
<ellipse cx="139.8" cy="120.6" rx="3.7" ry="12.6" fill="rgb(94,247,56)"/>
<ellipse cx="140.1" cy="120.6" rx="2.2" ry="9.6" fill="rgb(121,230,64)"/>
<polygon points="58.4,149.3 64.0,146.5 70.0,147.5 76.0,151.0 77.0,168.0 72.0,173.5 66.0,175.0 58.4,174.5" fill="rgb(73,230,120)"/>
<ellipse cx="62.2" cy="161.3" rx="10.2" ry="13.200000000000001" fill="rgb(99,224,76)"/>
<ellipse cx="59.0" cy="161.5" rx="10.2" ry="13.4" fill="rgb(89,242,76)"/>
<ellipse cx="59.3" cy="161.8" rx="8.2" ry="11.0" fill="rgb(124,230,89)"/>
<ellipse cx="59.3" cy="162.0" rx="6.8999999999999995" ry="9.2" fill="rgb(94,230,76)"/>
<ellipse cx="59.6" cy="162.8" rx="4.4" ry="6.6" fill="rgb(75,217,64)"/>
<polyline points="92.5,121.5 55.0,146.0" stroke="rgb(130,242,76)" stroke-width="3.2" fill="none"/>
<polyline points="93.0,119.8 53.0,145.5" stroke="rgb(92,255,51)" stroke-width="1.3" fill="none"/>
<polyline points="92.5,124.5 60.0,146.0" stroke="rgb(97,242,51)" stroke-width="1.0" fill="none"/>
<polyline points="99.5,122.5 139.5,151.0" stroke="rgb(135,242,76)" stroke-width="2.4" fill="none"/>
<polyline points="100.0,120.8 140.0,149.5" stroke="rgb(94,255,51)" stroke-width="1.0" fill="none"/>
<polyline points="103.0,119.6 112.0,116.0 121.9,112.0" stroke="rgb(94,255,51)" stroke-width="1.2" fill="none"/>
<polyline points="141.2,156.0 141.2,162.0" stroke="rgb(144,242,120)" stroke-width="1.2" fill="none"/>
<polygon points="92.2,122.0 100.2,122.0 100.2,180.5 92.2,180.5" fill="rgb(92,242,89)"/>
<polygon points="92.0,123.0 93.9,123.0 93.9,180.5 92.0,180.5" fill="rgb(120,242,76)"/>
<polygon points="98.0,123.0 100.0,123.0 100.0,181.0 98.0,181.0" fill="rgb(112,242,76)"/>
</g>
</g>
<g filter="url(#femf4)">
<g transform="translate(-0.8,298.3)">
<polygon points="94.5,118.8 103.0,119.0 112.0,115.5 121.9,111.5 124.0,109.0 127.0,107.7 133.4,107.0 138.5,109.0 141.5,112.5 143.0,116.6 143.6,124.3 141.0,130.7 138.0,133.0 134.7,134.5 129.5,133.9 127.0,134.0 131.0,140.0 136.5,145.0 139.8,149.5 141.7,156.0 141.7,162.0 136.9,165.7 128.0,169.0 117.6,172.9 108.0,177.0 97.0,180.8 89.0,180.3 81.3,178.5 73.5,174.0 68.0,174.4 61.6,174.4 58.8,174.9 56.0,174.3 53.4,172.7 51.3,170.3 49.8,167.2 48.9,163.6 48.9,159.9 49.6,156.3 51.1,153.1 53.1,150.5 55.0,147.5 62.0,141.5 70.0,135.2 81.3,127.2 88.5,122.0" fill="rgb(68,242,120)"/>
<polygon points="94.5,118.8 88.5,122.0 81.3,127.2 70.0,135.2 62.0,141.5 53.0,147.5 60.0,150.0 68.0,152.0 75.0,162.0 73.5,174.0 81.3,178.5 89.0,180.3 93.5,180.6 93.0,123.0" fill="url(#lf_m4)"/>
<polygon points="94.5,118.8 100.0,121.0 125.5,134.8 131.0,140.0 136.5,145.0 139.8,149.5 141.7,156.0 141.7,162.0 136.9,165.7 128.0,169.0 117.6,172.9 108.0,177.0 97.0,180.8 98.5,123.0" fill="url(#rf_m4)"/>
<polygon points="97.0,121.5 103.0,119.0 112.0,115.5 121.9,111.5 125.7,132.0 118.0,129.5 108.0,126.0 100.0,124.0" fill="url(#cy_m4)"/>
<polygon points="121.9,111.5 124.0,109.0 127.0,107.7 133.4,107.0 138.5,109.0 141.5,112.5 143.0,116.6 143.6,124.3 141.0,130.7 138.0,133.0 134.7,134.5 129.5,133.9 125.7,132.0" fill="rgb(130,230,76)"/>
<polygon points="123.0,110.5 127.0,108.3 133.4,107.6 138.5,109.6 138.5,113.0 126.0,114.0 123.5,115.0" fill="rgb(115,247,51)"/>
<polygon points="124.5,127.0 131.0,129.0 137.0,130.0 136.0,133.5 130.0,134.0 126.0,132.5" fill="rgb(126,199,64)"/>
<polygon points="130.2,108.0 132.2,108.0 133.0,120.0 132.4,133.5 130.4,133.5 131.0,120.0" fill="rgb(172,235,64)"/>
<ellipse cx="139.8" cy="120.6" rx="3.7" ry="12.6" fill="rgb(94,247,56)"/>
<ellipse cx="140.1" cy="120.6" rx="2.2" ry="9.6" fill="rgb(121,230,64)"/>
<polygon points="58.4,149.3 64.0,146.5 70.0,147.5 76.0,151.0 77.0,168.0 72.0,173.5 66.0,175.0 58.4,174.5" fill="rgb(62,230,120)"/>
<ellipse cx="62.2" cy="161.3" rx="10.2" ry="13.200000000000001" fill="rgb(99,224,76)"/>
<ellipse cx="59.0" cy="161.5" rx="10.2" ry="13.4" fill="rgb(89,242,76)"/>
<ellipse cx="59.3" cy="161.8" rx="8.2" ry="11.0" fill="rgb(124,230,89)"/>
<ellipse cx="59.3" cy="162.0" rx="6.8999999999999995" ry="9.2" fill="rgb(94,230,76)"/>
<ellipse cx="59.6" cy="162.8" rx="4.4" ry="6.6" fill="rgb(96,217,64)"/>
<polyline points="92.5,121.5 55.0,146.0" stroke="rgb(130,242,76)" stroke-width="3.2" fill="none"/>
<polyline points="93.0,119.8 53.0,145.5" stroke="rgb(92,255,51)" stroke-width="1.3" fill="none"/>
<polyline points="92.5,124.5 60.0,146.0" stroke="rgb(97,242,51)" stroke-width="1.0" fill="none"/>
<polyline points="99.5,122.5 139.5,151.0" stroke="rgb(135,242,76)" stroke-width="2.4" fill="none"/>
<polyline points="100.0,120.8 140.0,149.5" stroke="rgb(94,255,51)" stroke-width="1.0" fill="none"/>
<polyline points="103.0,119.6 112.0,116.0 121.9,112.0" stroke="rgb(94,255,51)" stroke-width="1.2" fill="none"/>
<polyline points="141.2,156.0 141.2,162.0" stroke="rgb(144,242,120)" stroke-width="1.2" fill="none"/>
<polygon points="92.2,122.0 100.2,122.0 100.2,180.5 92.2,180.5" fill="rgb(78,242,89)"/>
<polygon points="92.0,123.0 93.9,123.0 93.9,180.5 92.0,180.5" fill="rgb(191,242,76)"/>
<polygon points="98.0,123.0 100.0,123.0 100.0,181.0 98.0,181.0" fill="rgb(184,242,76)"/>
</g>
</g>
<g filter="url(#femf5)">
<g transform="translate(112.6,296.7)">
<polygon points="94.5,118.8 103.0,119.0 112.0,115.5 121.9,111.5 124.0,109.0 127.0,107.7 133.4,107.0 138.5,109.0 141.5,112.5 143.0,116.6 143.6,124.3 141.0,130.7 138.0,133.0 134.7,134.5 129.5,133.9 127.0,134.0 131.0,140.0 136.5,145.0 139.8,149.5 141.7,156.0 141.7,162.0 136.9,165.7 128.0,169.0 117.6,172.9 108.0,177.0 97.0,180.8 89.0,180.3 81.3,178.5 73.5,174.0 68.0,174.4 61.6,174.4 58.8,174.9 56.0,174.3 53.4,172.7 51.3,170.3 49.8,167.2 48.9,163.6 48.9,159.9 49.6,156.3 51.1,153.1 53.1,150.5 55.0,147.5 62.0,141.5 70.0,135.2 81.3,127.2 88.5,122.0" fill="rgb(76,242,120)"/>
<polygon points="94.5,118.8 88.5,122.0 81.3,127.2 70.0,135.2 62.0,141.5 53.0,147.5 60.0,150.0 68.0,152.0 75.0,162.0 73.5,174.0 81.3,178.5 89.0,180.3 93.5,180.6 93.0,123.0" fill="url(#lf_m5)"/>
<polygon points="94.5,118.8 100.0,121.0 125.5,134.8 131.0,140.0 136.5,145.0 139.8,149.5 141.7,156.0 141.7,162.0 136.9,165.7 128.0,169.0 117.6,172.9 108.0,177.0 97.0,180.8 98.5,123.0" fill="url(#rf_m5)"/>
<polygon points="97.0,121.5 103.0,119.0 112.0,115.5 121.9,111.5 125.7,132.0 118.0,129.5 108.0,126.0 100.0,124.0" fill="url(#cy_m5)"/>
<polygon points="121.9,111.5 124.0,109.0 127.0,107.7 133.4,107.0 138.5,109.0 141.5,112.5 143.0,116.6 143.6,124.3 141.0,130.7 138.0,133.0 134.7,134.5 129.5,133.9 125.7,132.0" fill="rgb(130,230,76)"/>
<polygon points="123.0,110.5 127.0,108.3 133.4,107.6 138.5,109.6 138.5,113.0 126.0,114.0 123.5,115.0" fill="rgb(115,247,51)"/>
<polygon points="124.5,127.0 131.0,129.0 137.0,130.0 136.0,133.5 130.0,134.0 126.0,132.5" fill="rgb(126,199,64)"/>
<polygon points="130.2,108.0 132.2,108.0 133.0,120.0 132.4,133.5 130.4,133.5 131.0,120.0" fill="rgb(172,235,64)"/>
<ellipse cx="139.8" cy="120.6" rx="3.7" ry="12.6" fill="rgb(94,247,56)"/>
<ellipse cx="140.1" cy="120.6" rx="2.2" ry="9.6" fill="rgb(121,230,64)"/>
<polygon points="58.4,149.3 64.0,146.5 70.0,147.5 76.0,151.0 77.0,168.0 72.0,173.5 66.0,175.0 58.4,174.5" fill="rgb(70,230,120)"/>
<ellipse cx="62.2" cy="161.3" rx="10.2" ry="13.200000000000001" fill="rgb(99,224,76)"/>
<ellipse cx="59.0" cy="161.5" rx="10.2" ry="13.4" fill="rgb(89,242,76)"/>
<ellipse cx="59.3" cy="161.8" rx="8.2" ry="11.0" fill="rgb(124,230,89)"/>
<ellipse cx="59.3" cy="162.0" rx="6.8999999999999995" ry="9.2" fill="rgb(94,230,76)"/>
<ellipse cx="59.6" cy="162.8" rx="4.4" ry="6.6" fill="rgb(57,217,64)"/>
<polyline points="92.5,121.5 55.0,146.0" stroke="rgb(130,242,76)" stroke-width="3.2" fill="none"/>
<polyline points="93.0,119.8 53.0,145.5" stroke="rgb(92,255,51)" stroke-width="1.3" fill="none"/>
<polyline points="92.5,124.5 60.0,146.0" stroke="rgb(97,242,51)" stroke-width="1.0" fill="none"/>
<polyline points="99.5,122.5 139.5,151.0" stroke="rgb(135,242,76)" stroke-width="2.4" fill="none"/>
<polyline points="100.0,120.8 140.0,149.5" stroke="rgb(94,255,51)" stroke-width="1.0" fill="none"/>
<polyline points="103.0,119.6 112.0,116.0 121.9,112.0" stroke="rgb(94,255,51)" stroke-width="1.2" fill="none"/>
<polyline points="141.2,156.0 141.2,162.0" stroke="rgb(144,242,120)" stroke-width="1.2" fill="none"/>
<polygon points="92.2,122.0 100.2,122.0 100.2,180.5 92.2,180.5" fill="rgb(87,242,89)"/>
<polygon points="92.0,123.0 93.9,123.0 93.9,180.5 92.0,180.5" fill="rgb(191,242,76)"/>
<polygon points="98.0,123.0 100.0,123.0 100.0,181.0 98.0,181.0" fill="rgb(184,242,76)"/>
</g>
</g>
<g transform="translate(0.0,0.0)" fill="none" stroke="#1a1a1a" stroke-opacity="0.55" stroke-width="0.6" stroke-linejoin="round">
<polygon points="94.5,118.8 103.0,119.0 112.0,115.5 121.9,111.5 124.0,109.0 127.0,107.7 133.4,107.0 138.5,109.0 141.5,112.5 143.0,116.6 143.6,124.3 141.0,130.7 138.0,133.0 134.7,134.5 129.5,133.9 127.0,134.0 131.0,140.0 136.5,145.0 139.8,149.5 141.7,156.0 141.7,162.0 136.9,165.7 128.0,169.0 117.6,172.9 108.0,177.0 97.0,180.8 89.0,180.3 81.3,178.5 73.5,174.0 68.0,174.4 61.6,174.4 58.8,174.9 56.0,174.3 53.4,172.7 51.3,170.3 49.8,167.2 48.9,163.6 48.9,159.9 49.6,156.3 51.1,153.1 53.1,150.5 55.0,147.5 62.0,141.5 70.0,135.2 81.3,127.2 88.5,122.0"/>
<polyline points="121.9,111.5 123.5,118.0 124.5,126.0 125.7,132.0" stroke-width="0.5"/>
<polyline points="97.0,123.5 108.0,126.5 118.0,129.8 125.7,132.0 129.5,133.9" stroke-width="0.6"/>
<polyline points="68.0,152.0 75.0,162.0 73.5,174.0" stroke-width="0.4"/>
<ellipse cx="139.8" cy="120.6" rx="3.7" ry="12.6" stroke-width="0.35"/>
<polyline points="130.2,108.0 131.0,120.0 130.4,133.5" stroke-width="0.3"/>
<ellipse cx="59.0" cy="161.5" rx="10.2" ry="13.4"/>
<ellipse cx="59.3" cy="161.8" rx="8.2" ry="11.0" stroke-width="0.4"/>
<ellipse cx="59.6" cy="162.8" rx="4.4" ry="6.6" stroke-width="0.4"/>
<path d="M60.0,148.2 A10.2,13.200000000000001 0 0 1 60.0,174.8" transform="translate(2.2,0)" stroke-width="0.4"/>
<polyline points="92.2,122.0 92.2,180.5" stroke-width="0.5"/>
<polyline points="100.2,122.0 100.2,181.0" stroke-width="0.5"/>
<polyline points="95.5,124.0 95.5,180.5" stroke-width="0.35"/>
<polyline points="92.5,122.5 52.5,148.5" stroke-width="0.45"/>
<polyline points="92.5,119.0 54.0,144.0" stroke-width="0.35"/>
<polyline points="100.5,122.5 139.5,151.5" stroke-width="0.45"/>
<polyline points="101.0,119.5 140.0,148.5" stroke-width="0.35"/>
</g>
<g transform="translate(111.5,0.2)" fill="none" stroke="#1a1a1a" stroke-opacity="0.55" stroke-width="0.6" stroke-linejoin="round">
<polygon points="94.5,118.8 103.0,119.0 112.0,115.5 121.9,111.5 124.0,109.0 127.0,107.7 133.4,107.0 138.5,109.0 141.5,112.5 143.0,116.6 143.6,124.3 141.0,130.7 138.0,133.0 134.7,134.5 129.5,133.9 127.0,134.0 131.0,140.0 136.5,145.0 139.8,149.5 141.7,156.0 141.7,162.0 136.9,165.7 128.0,169.0 117.6,172.9 108.0,177.0 97.0,180.8 89.0,180.3 81.3,178.5 73.5,174.0 68.0,174.4 61.6,174.4 58.8,174.9 56.0,174.3 53.4,172.7 51.3,170.3 49.8,167.2 48.9,163.6 48.9,159.9 49.6,156.3 51.1,153.1 53.1,150.5 55.0,147.5 62.0,141.5 70.0,135.2 81.3,127.2 88.5,122.0"/>
<polyline points="121.9,111.5 123.5,118.0 124.5,126.0 125.7,132.0" stroke-width="0.5"/>
<polyline points="97.0,123.5 108.0,126.5 118.0,129.8 125.7,132.0 129.5,133.9" stroke-width="0.6"/>
<polyline points="68.0,152.0 75.0,162.0 73.5,174.0" stroke-width="0.4"/>
<ellipse cx="139.8" cy="120.6" rx="3.7" ry="12.6" stroke-width="0.35"/>
<polyline points="130.2,108.0 131.0,120.0 130.4,133.5" stroke-width="0.3"/>
<ellipse cx="59.0" cy="161.5" rx="10.2" ry="13.4"/>
<ellipse cx="59.3" cy="161.8" rx="8.2" ry="11.0" stroke-width="0.4"/>
<ellipse cx="59.6" cy="162.8" rx="4.4" ry="6.6" stroke-width="0.4"/>
<path d="M60.0,148.2 A10.2,13.200000000000001 0 0 1 60.0,174.8" transform="translate(2.2,0)" stroke-width="0.4"/>
<polyline points="92.2,122.0 92.2,180.5" stroke-width="0.5"/>
<polyline points="100.2,122.0 100.2,181.0" stroke-width="0.5"/>
<polyline points="95.5,124.0 95.5,180.5" stroke-width="0.35"/>
<polyline points="92.5,122.5 52.5,148.5" stroke-width="0.45"/>
<polyline points="92.5,119.0 54.0,144.0" stroke-width="0.35"/>
<polyline points="100.5,122.5 139.5,151.5" stroke-width="0.45"/>
<polyline points="101.0,119.5 140.0,148.5" stroke-width="0.35"/>
</g>
<g transform="translate(-3.5,149.5)" fill="none" stroke="#1a1a1a" stroke-opacity="0.55" stroke-width="0.6" stroke-linejoin="round">
<polygon points="94.5,118.8 103.0,119.0 112.0,115.5 121.9,111.5 124.0,109.0 127.0,107.7 133.4,107.0 138.5,109.0 141.5,112.5 143.0,116.6 143.6,124.3 141.0,130.7 138.0,133.0 134.7,134.5 129.5,133.9 127.0,134.0 131.0,140.0 136.5,145.0 139.8,149.5 141.7,156.0 141.7,162.0 136.9,165.7 128.0,169.0 117.6,172.9 108.0,177.0 97.0,180.8 89.0,180.3 81.3,178.5 73.5,174.0 68.0,174.4 61.6,174.4 58.8,174.9 56.0,174.3 53.4,172.7 51.3,170.3 49.8,167.2 48.9,163.6 48.9,159.9 49.6,156.3 51.1,153.1 53.1,150.5 55.0,147.5 62.0,141.5 70.0,135.2 81.3,127.2 88.5,122.0"/>
<polyline points="121.9,111.5 123.5,118.0 124.5,126.0 125.7,132.0" stroke-width="0.5"/>
<polyline points="97.0,123.5 108.0,126.5 118.0,129.8 125.7,132.0 129.5,133.9" stroke-width="0.6"/>
<polyline points="68.0,152.0 75.0,162.0 73.5,174.0" stroke-width="0.4"/>
<ellipse cx="139.8" cy="120.6" rx="3.7" ry="12.6" stroke-width="0.35"/>
<polyline points="130.2,108.0 131.0,120.0 130.4,133.5" stroke-width="0.3"/>
<ellipse cx="59.0" cy="161.5" rx="10.2" ry="13.4"/>
<ellipse cx="59.3" cy="161.8" rx="8.2" ry="11.0" stroke-width="0.4"/>
<ellipse cx="59.6" cy="162.8" rx="4.4" ry="6.6" stroke-width="0.4"/>
<path d="M60.0,148.2 A10.2,13.200000000000001 0 0 1 60.0,174.8" transform="translate(2.2,0)" stroke-width="0.4"/>
<polyline points="92.2,122.0 92.2,180.5" stroke-width="0.5"/>
<polyline points="100.2,122.0 100.2,181.0" stroke-width="0.5"/>
<polyline points="95.5,124.0 95.5,180.5" stroke-width="0.35"/>
<polyline points="92.5,122.5 52.5,148.5" stroke-width="0.45"/>
<polyline points="92.5,119.0 54.0,144.0" stroke-width="0.35"/>
<polyline points="100.5,122.5 139.5,151.5" stroke-width="0.45"/>
<polyline points="101.0,119.5 140.0,148.5" stroke-width="0.35"/>
</g>
<g transform="translate(112.5,149.2)" fill="none" stroke="#1a1a1a" stroke-opacity="0.55" stroke-width="0.6" stroke-linejoin="round">
<polygon points="94.5,118.8 103.0,119.0 112.0,115.5 121.9,111.5 124.0,109.0 127.0,107.7 133.4,107.0 138.5,109.0 141.5,112.5 143.0,116.6 143.6,124.3 141.0,130.7 138.0,133.0 134.7,134.5 129.5,133.9 127.0,134.0 131.0,140.0 136.5,145.0 139.8,149.5 141.7,156.0 141.7,162.0 136.9,165.7 128.0,169.0 117.6,172.9 108.0,177.0 97.0,180.8 89.0,180.3 81.3,178.5 73.5,174.0 68.0,174.4 61.6,174.4 58.8,174.9 56.0,174.3 53.4,172.7 51.3,170.3 49.8,167.2 48.9,163.6 48.9,159.9 49.6,156.3 51.1,153.1 53.1,150.5 55.0,147.5 62.0,141.5 70.0,135.2 81.3,127.2 88.5,122.0"/>
<polyline points="121.9,111.5 123.5,118.0 124.5,126.0 125.7,132.0" stroke-width="0.5"/>
<polyline points="97.0,123.5 108.0,126.5 118.0,129.8 125.7,132.0 129.5,133.9" stroke-width="0.6"/>
<polyline points="68.0,152.0 75.0,162.0 73.5,174.0" stroke-width="0.4"/>
<ellipse cx="139.8" cy="120.6" rx="3.7" ry="12.6" stroke-width="0.35"/>
<polyline points="130.2,108.0 131.0,120.0 130.4,133.5" stroke-width="0.3"/>
<ellipse cx="59.0" cy="161.5" rx="10.2" ry="13.4"/>
<ellipse cx="59.3" cy="161.8" rx="8.2" ry="11.0" stroke-width="0.4"/>
<ellipse cx="59.6" cy="162.8" rx="4.4" ry="6.6" stroke-width="0.4"/>
<path d="M60.0,148.2 A10.2,13.200000000000001 0 0 1 60.0,174.8" transform="translate(2.2,0)" stroke-width="0.4"/>
<polyline points="92.2,122.0 92.2,180.5" stroke-width="0.5"/>
<polyline points="100.2,122.0 100.2,181.0" stroke-width="0.5"/>
<polyline points="95.5,124.0 95.5,180.5" stroke-width="0.35"/>
<polyline points="92.5,122.5 52.5,148.5" stroke-width="0.45"/>
<polyline points="92.5,119.0 54.0,144.0" stroke-width="0.35"/>
<polyline points="100.5,122.5 139.5,151.5" stroke-width="0.45"/>
<polyline points="101.0,119.5 140.0,148.5" stroke-width="0.35"/>
</g>
<g transform="translate(-0.8,298.3)" fill="none" stroke="#1a1a1a" stroke-opacity="0.55" stroke-width="0.6" stroke-linejoin="round">
<polygon points="94.5,118.8 103.0,119.0 112.0,115.5 121.9,111.5 124.0,109.0 127.0,107.7 133.4,107.0 138.5,109.0 141.5,112.5 143.0,116.6 143.6,124.3 141.0,130.7 138.0,133.0 134.7,134.5 129.5,133.9 127.0,134.0 131.0,140.0 136.5,145.0 139.8,149.5 141.7,156.0 141.7,162.0 136.9,165.7 128.0,169.0 117.6,172.9 108.0,177.0 97.0,180.8 89.0,180.3 81.3,178.5 73.5,174.0 68.0,174.4 61.6,174.4 58.8,174.9 56.0,174.3 53.4,172.7 51.3,170.3 49.8,167.2 48.9,163.6 48.9,159.9 49.6,156.3 51.1,153.1 53.1,150.5 55.0,147.5 62.0,141.5 70.0,135.2 81.3,127.2 88.5,122.0"/>
<polyline points="121.9,111.5 123.5,118.0 124.5,126.0 125.7,132.0" stroke-width="0.5"/>
<polyline points="97.0,123.5 108.0,126.5 118.0,129.8 125.7,132.0 129.5,133.9" stroke-width="0.6"/>
<polyline points="68.0,152.0 75.0,162.0 73.5,174.0" stroke-width="0.4"/>
<ellipse cx="139.8" cy="120.6" rx="3.7" ry="12.6" stroke-width="0.35"/>
<polyline points="130.2,108.0 131.0,120.0 130.4,133.5" stroke-width="0.3"/>
<ellipse cx="59.0" cy="161.5" rx="10.2" ry="13.4"/>
<ellipse cx="59.3" cy="161.8" rx="8.2" ry="11.0" stroke-width="0.4"/>
<ellipse cx="59.6" cy="162.8" rx="4.4" ry="6.6" stroke-width="0.4"/>
<path d="M60.0,148.2 A10.2,13.200000000000001 0 0 1 60.0,174.8" transform="translate(2.2,0)" stroke-width="0.4"/>
<polyline points="92.2,122.0 92.2,180.5" stroke-width="0.5"/>
<polyline points="100.2,122.0 100.2,181.0" stroke-width="0.5"/>
<polyline points="95.5,124.0 95.5,180.5" stroke-width="0.35"/>
<polyline points="92.5,122.5 52.5,148.5" stroke-width="0.45"/>
<polyline points="92.5,119.0 54.0,144.0" stroke-width="0.35"/>
<polyline points="100.5,122.5 139.5,151.5" stroke-width="0.45"/>
<polyline points="101.0,119.5 140.0,148.5" stroke-width="0.35"/>
</g>
<g transform="translate(112.6,296.7)" fill="none" stroke="#1a1a1a" stroke-opacity="0.55" stroke-width="0.6" stroke-linejoin="round">
<polygon points="94.5,118.8 103.0,119.0 112.0,115.5 121.9,111.5 124.0,109.0 127.0,107.7 133.4,107.0 138.5,109.0 141.5,112.5 143.0,116.6 143.6,124.3 141.0,130.7 138.0,133.0 134.7,134.5 129.5,133.9 127.0,134.0 131.0,140.0 136.5,145.0 139.8,149.5 141.7,156.0 141.7,162.0 136.9,165.7 128.0,169.0 117.6,172.9 108.0,177.0 97.0,180.8 89.0,180.3 81.3,178.5 73.5,174.0 68.0,174.4 61.6,174.4 58.8,174.9 56.0,174.3 53.4,172.7 51.3,170.3 49.8,167.2 48.9,163.6 48.9,159.9 49.6,156.3 51.1,153.1 53.1,150.5 55.0,147.5 62.0,141.5 70.0,135.2 81.3,127.2 88.5,122.0"/>
<polyline points="121.9,111.5 123.5,118.0 124.5,126.0 125.7,132.0" stroke-width="0.5"/>
<polyline points="97.0,123.5 108.0,126.5 118.0,129.8 125.7,132.0 129.5,133.9" stroke-width="0.6"/>
<polyline points="68.0,152.0 75.0,162.0 73.5,174.0" stroke-width="0.4"/>
<ellipse cx="139.8" cy="120.6" rx="3.7" ry="12.6" stroke-width="0.35"/>
<polyline points="130.2,108.0 131.0,120.0 130.4,133.5" stroke-width="0.3"/>
<ellipse cx="59.0" cy="161.5" rx="10.2" ry="13.4"/>
<ellipse cx="59.3" cy="161.8" rx="8.2" ry="11.0" stroke-width="0.4"/>
<ellipse cx="59.6" cy="162.8" rx="4.4" ry="6.6" stroke-width="0.4"/>
<path d="M60.0,148.2 A10.2,13.200000000000001 0 0 1 60.0,174.8" transform="translate(2.2,0)" stroke-width="0.4"/>
<polyline points="92.2,122.0 92.2,180.5" stroke-width="0.5"/>
<polyline points="100.2,122.0 100.2,181.0" stroke-width="0.5"/>
<polyline points="95.5,124.0 95.5,180.5" stroke-width="0.35"/>
<polyline points="92.5,122.5 52.5,148.5" stroke-width="0.45"/>
<polyline points="92.5,119.0 54.0,144.0" stroke-width="0.35"/>
<polyline points="100.5,122.5 139.5,151.5" stroke-width="0.45"/>
<polyline points="101.0,119.5 140.0,148.5" stroke-width="0.35"/>
</g>
<g filter="url(#fema)">
<polygon points="130.0,22.0 133.5,20.9 145.0,17.0 156.7,12.8 163.7,10.5 169.0,10.2 173.0,11.6 175.5,14.5 176.8,18.6 177.0,26.7 175.5,30.5 172.5,33.5 170.0,36.0 173.0,41.0 176.0,46.6 178.2,54.2 176.7,60.2 165.4,69.3 150.2,79.9 139.7,88.2 132.1,89.7 120.0,84.4 110.2,80.0 103.3,78.5 95.1,78.8 92.3,78.9 89.5,77.8 87.1,75.7 85.2,72.6 84.0,68.9 83.5,64.8 83.9,60.6 85.0,56.8 86.8,53.6 89.2,51.4 92.0,47.5 98.6,39.5 112.0,31.0 126.5,23.3" fill="rgb(8,217,0)"/>
<polygon points="130.0,23.0 126.5,23.3 112.0,31.0 98.6,39.5 92.0,47.5 100.0,54.0 112.0,58.0 124.0,62.0 130.0,64.0" fill="rgb(18,217,0)"/>
<polygon points="128.0,26.0 98.0,44.0 101.0,48.0 129.0,32.0" fill="rgb(51,242,0)"/>
<polygon points="129.0,36.0 105.0,51.0 110.0,54.0 129.0,44.0" fill="rgb(33,230,0)"/>
<polygon points="116.0,40.0 129.0,33.0 129.0,58.0 118.0,55.0" fill="rgb(38,230,0)"/>
<polygon points="141.0,27.0 165.0,33.5 172.5,33.5 170.0,36.0 173.0,41.0 176.0,46.6 178.2,54.2 176.7,60.2 165.4,69.3 150.2,79.9 141.0,86.0" fill="rgb(8,224,0)"/>
<polygon points="139.0,27.0 152.0,30.0 162.0,34.0 167.0,38.0 171.0,47.0 160.0,50.0 150.0,52.0 140.0,49.0" fill="rgb(41,217,0)"/>
<ellipse cx="148" cy="41.3" rx="3" ry="3" fill="rgb(20,230,0)"/>
<polygon points="150.0,34.0 168.0,40.0 171.0,47.0 160.0,44.0" fill="rgb(31,230,0)"/>
<polygon points="133.5,20.9 145.0,17.0 156.7,12.8 163.7,10.5 169.0,10.2 173.0,11.6 175.5,14.5 176.8,18.6 177.0,26.7 175.5,30.0 173.5,31.6 165.0,33.5 155.0,32.5 145.0,30.0 138.0,27.0" fill="rgb(5,204,0)"/>
<ellipse cx="170.8" cy="21" rx="6.2" ry="10.8" fill="rgb(8,224,0)"/>
<polyline points="137.0,24.5 174.0,46.5" stroke="rgb(76,242,0)" stroke-width="1.4" fill="none"/>
<polyline points="128.0,24.5 95.0,45.5" stroke="rgb(102,242,0)" stroke-width="1.6" fill="none"/>
<polyline points="129.0,29.0 100.0,48.0" stroke="rgb(140,242,0)" stroke-width="0.8" fill="none"/>
<polygon points="125.0,64.0 146.0,64.0 145.0,78.0 139.0,86.0 126.0,82.0" fill="rgb(23,224,0)"/>
<ellipse cx="131" cy="70" rx="3" ry="2.2" fill="rgb(76,242,0)"/>
<ellipse cx="140" cy="74" rx="3" ry="2" fill="rgb(71,242,0)"/>
<ellipse cx="135" cy="80" rx="2.5" ry="1.8" fill="rgb(56,242,0)"/>
<polygon points="130.0,26.0 137.5,26.0 137.5,80.0 130.0,80.0" fill="rgb(26,217,0)"/>
<polygon points="130.8,25.0 133.2,25.0 133.2,80.0 130.8,80.0" fill="url(#ribA)"/>
<polygon points="137.4,25.0 139.9,25.0 139.9,82.0 137.4,82.0" fill="url(#ribA2)"/>
<polygon points="93.4,50.0 104.0,48.0 110.0,51.0 112.0,76.0 103.3,77.5 93.4,79.0" fill="rgb(8,209,0)"/>
<ellipse cx="93.4" cy="64.5" rx="9.9" ry="14.5" fill="rgb(8,230,0)"/>
<ellipse cx="93.9" cy="65.0" rx="5.5" ry="8.5" fill="rgb(0,153,0)"/>
<ellipse cx="133" cy="25" rx="5" ry="3.2" fill="rgb(191,255,0)"/>
<ellipse cx="133.5" cy="25" rx="2.6" ry="1.8" fill="rgb(247,255,0)"/>
<ellipse cx="126" cy="29" rx="3" ry="2.2" fill="rgb(140,255,0)"/>
<polygon points="212.3,22.5 240.4,23.1 242.3,26.3 243.0,41.0 237.2,50.0 224.4,57.0 222.5,57.0 222.5,59.5 199.5,60.2 199.5,38.5 202.7,29.5 207.8,24.4" fill="rgb(128,242,0)"/>
<polygon points="199.5,60.2 199.5,38.5 202.7,29.5 207.8,24.4 212.3,22.5 216.0,23.0 210.0,28.0 206.0,35.0 205.0,45.0 206.0,60.0" fill="url(#c1l)"/>
<polygon points="199.5,40.0 202.7,29.5 207.8,24.4 212.3,22.5 214.0,23.5 208.0,28.0 204.0,34.0 202.0,42.0 201.5,50.0 199.5,52.0" fill="rgb(8,230,0)"/>
<polygon points="214.0,23.0 240.4,23.1 242.3,26.3 243.0,33.0 222.0,34.0 219.0,42.0 214.0,46.0 210.0,40.0 210.0,30.0" fill="url(#c1t)"/>
<polygon points="214.0,27.0 222.0,26.0 232.0,28.0 226.0,33.0 224.0,40.0 220.0,44.0 216.0,38.0" fill="rgb(219,255,0)"/>
<polygon points="216.0,29.0 221.0,28.5 226.0,30.5 222.0,35.0 221.0,41.0 218.0,37.0" fill="rgb(255,242,0)"/>
<polygon points="222.0,34.0 243.0,33.0 243.0,41.0 222.0,43.0" fill="rgb(178,255,0)"/>
<polygon points="222.0,43.0 243.0,41.0 237.2,50.0 224.4,57.0 222.5,57.0" fill="rgb(107,217,0)"/>
<polygon points="206.0,46.0 222.5,45.0 222.5,59.5 206.0,60.0" fill="rgb(117,230,0)"/>
<polygon points="286.7,30.6 299.0,26.0 308.2,22.9 320.5,22.1 329.0,22.9 330.5,25.2 337.4,29.0 338.9,32.9 335.9,39.0 322.0,52.0 320.5,51.3 317.4,54.4 297.5,61.3 293.7,62.8 283.7,54.4 282.1,50.5 285.2,39.0" fill="rgb(140,242,0)"/>
<polygon points="286.7,30.6 299.0,26.0 308.2,22.9 318.0,22.5 320.0,30.0 318.0,40.0 300.0,40.0 287.0,40.0" fill="url(#c2t)"/>
<ellipse cx="313" cy="30" rx="6" ry="4" fill="rgb(247,255,0)"/>
<polygon points="320.5,22.1 329.0,22.9 330.5,25.2 326.0,26.0 320.0,25.0" fill="rgb(20,230,0)"/>
<polygon points="287.0,40.0 318.0,40.0 320.5,51.3 317.4,54.4 297.5,58.0 290.0,52.0" fill="rgb(148,242,0)"/>
<polygon points="282.1,50.5 290.0,52.0 297.5,58.0 297.5,61.3 293.7,62.8 283.7,54.4" fill="rgb(97,217,0)"/>
<polygon points="330.5,25.2 337.4,29.0 338.9,32.9 335.9,39.0 322.0,52.0 321.0,40.0" fill="rgb(107,204,0)"/>
<polygon points="375.1,6.5 377.5,4.7 383.5,8.0 383.5,73.0 380.0,75.3 376.0,74.0" fill="url(#c3)"/>
<polygon points="381.8,7.0 383.5,8.0 383.5,73.0 381.8,74.0" fill="rgb(89,217,0)"/>
</g>
<g fill="none" stroke="#000040" stroke-opacity="0.45" stroke-width="0.5">
<polygon points="130.0,22.0 133.5,20.9 145.0,17.0 156.7,12.8 163.7,10.5 169.0,10.2 173.0,11.6 175.5,14.5 176.8,18.6 177.0,26.7 175.5,30.5 172.5,33.5 170.0,36.0 173.0,41.0 176.0,46.6 178.2,54.2 176.7,60.2 165.4,69.3 150.2,79.9 139.7,88.2 132.1,89.7 120.0,84.4 110.2,80.0 103.3,78.5 95.1,78.8 92.3,78.9 89.5,77.8 87.1,75.7 85.2,72.6 84.0,68.9 83.5,64.8 83.9,60.6 85.0,56.8 86.8,53.6 89.2,51.4 92.0,47.5 98.6,39.5 112.0,31.0 126.5,23.3"/>
<ellipse cx="93.4" cy="64.5" rx="9.9" ry="14.5"/>
<ellipse cx="93.9" cy="65.0" rx="5.5" ry="8.5"/>
</g>
<circle cx="140.6" cy="20.3" r="6.8" fill="none" stroke="#c0392b" stroke-width="0.8"/>
<circle cx="127.6" cy="30.6" r="7.2" fill="none" stroke="#c0392b" stroke-width="0.8"/>
<circle cx="139.0" cy="48.6" r="7.0" fill="none" stroke="#c0392b" stroke-width="0.8"/>
<text x="135.70" y="11.88" font-family="'Liberation Serif', serif" font-weight="bold" font-size="7" fill="#c62828" text-anchor="start" stroke="#c62828" stroke-width="0.22">RoI#1</text>
<text x="99.90" y="24.68" font-family="'Liberation Serif', serif" font-weight="bold" font-size="7" fill="#c62828" text-anchor="start" stroke="#c62828" stroke-width="0.22">RoI#2</text>
<text x="164.00" y="80.68" font-family="'Liberation Serif', serif" font-weight="bold" font-size="7" fill="#c62828" text-anchor="start" stroke="#c62828" stroke-width="0.22">RoI#3</text>
<text x="210.80" y="84.88" font-family="'Liberation Serif', serif" font-weight="bold" font-size="7" fill="#c62828" text-anchor="start" stroke="#c62828" stroke-width="0.22">RoI#1</text>
<text x="297.90" y="83.98" font-family="'Liberation Serif', serif" font-weight="bold" font-size="7" fill="#c62828" text-anchor="start" stroke="#c62828" stroke-width="0.22">RoI#2</text>
<text x="371.40" y="85.18" font-family="'Liberation Serif', serif" font-weight="bold" font-size="7" fill="#c62828" text-anchor="start" stroke="#c62828" stroke-width="0.22">RoI#3</text>
<g stroke-width="1" stroke-linecap="round"><line x1="83.6" y1="90" x2="83.6" y2="86.3" stroke="#1a1"/><line x1="83.6" y1="90" x2="80.6" y2="88.8" stroke="#d22"/><line x1="83.6" y1="90" x2="86.8" y2="88.8" stroke="#22d"/></g>
<circle cx="85.0" cy="130.2" r="6.4" fill="none" stroke="#222" stroke-width="0.7"/>
<circle cx="96.5" cy="117.2" r="6.4" fill="none" stroke="#222" stroke-width="0.7"/>
<circle cx="96.4" cy="148.2" r="6.4" fill="none" stroke="#222" stroke-width="0.7"/>
<text x="90.50" y="109.78" font-family="'Liberation Serif', serif" font-weight="bold" font-size="7" fill="#000" text-anchor="start" stroke="#000" stroke-width="0.22">RoI#2</text>
<text x="62.40" y="123.78" font-family="'Liberation Serif', serif" font-weight="bold" font-size="7" fill="#000" text-anchor="start" stroke="#000" stroke-width="0.22">RoI#1</text>
<text x="105.00" y="150.68" font-family="'Liberation Serif', serif" font-weight="bold" font-size="7" fill="#000" text-anchor="start" stroke="#000" stroke-width="0.22">RoI#3</text>
<text x="110.80" y="166.38" font-family="'Liberation Serif', serif" font-weight="bold" font-size="7" fill="#000" text-anchor="start" stroke="#000" stroke-width="0.22">IG</text>
<line x1="105.5" y1="160.8" x2="108.6" y2="163.2" stroke="#333" stroke-width="2.1" stroke-linecap="round"/>
<line x1="105.5" y1="160.8" x2="108.6" y2="163.2" stroke="#fff" stroke-width="1.3" stroke-linecap="round"/>
<circle cx="197.3" cy="129.0" r="6.4" fill="none" stroke="#222" stroke-width="0.7"/>
<circle cx="209.3" cy="120.3" r="6.4" fill="none" stroke="#222" stroke-width="0.7"/>
<circle cx="208.2" cy="149.2" r="6.4" fill="none" stroke="#222" stroke-width="0.7"/>
<text x="190.00" y="114.68" font-family="'Liberation Serif', serif" font-weight="bold" font-size="7" fill="#000" text-anchor="start" stroke="#000" stroke-width="0.22">RoI#2</text>
<text x="175.70" y="124.18" font-family="'Liberation Serif', serif" font-weight="bold" font-size="7" fill="#000" text-anchor="start" stroke="#000" stroke-width="0.22">RoI#1</text>
<text x="215.00" y="152.78" font-family="'Liberation Serif', serif" font-weight="bold" font-size="7" fill="#000" text-anchor="start" stroke="#000" stroke-width="0.22">RoI#3</text>
<text x="164.20" y="128.08" font-family="'Liberation Serif', serif" font-weight="bold" font-size="7" fill="#000" text-anchor="middle" stroke="#000" stroke-width="0.22">IG</text>
<text x="163.70" y="136.68" font-family="'Liberation Serif', serif" font-weight="bold" font-size="7" fill="#000" text-anchor="middle" stroke="#000" stroke-width="0.22">(behind)</text>
<line x1="178.6" y1="139.6" x2="182.4" y2="141.8" stroke="#333" stroke-width="2.1" stroke-linecap="round"/>
<line x1="178.6" y1="139.6" x2="182.4" y2="141.8" stroke="#fff" stroke-width="1.3" stroke-linecap="round"/>
<circle cx="85.5" cy="274.8" r="6.4" fill="none" stroke="#222" stroke-width="0.7"/>
<circle cx="95.8" cy="264.2" r="6.4" fill="none" stroke="#222" stroke-width="0.7"/>
<circle cx="94.0" cy="296.0" r="6.4" fill="none" stroke="#222" stroke-width="0.7"/>
<text x="88.00" y="257.38" font-family="'Liberation Serif', serif" font-weight="bold" font-size="7" fill="#000" text-anchor="start" stroke="#000" stroke-width="0.22">RoI#2</text>
<text x="71.50" y="266.38" font-family="'Liberation Serif', serif" font-weight="bold" font-size="7" fill="#000" text-anchor="start" stroke="#000" stroke-width="0.22">RoI#1</text>
<text x="102.50" y="297.88" font-family="'Liberation Serif', serif" font-weight="bold" font-size="7" fill="#000" text-anchor="start" stroke="#000" stroke-width="0.22">RoI#3</text>
<text x="57.10" y="263.28" font-family="'Liberation Serif', serif" font-weight="bold" font-size="7" fill="#000" text-anchor="middle" stroke="#000" stroke-width="0.22">IG</text>
<text x="56.30" y="271.68" font-family="'Liberation Serif', serif" font-weight="bold" font-size="7" fill="#000" text-anchor="middle" stroke="#000" stroke-width="0.22">(behind)</text>
<line x1="69.5" y1="272.5" x2="72.5" y2="276.5" stroke="#333" stroke-width="2.0" stroke-linecap="round"/>
<line x1="69.5" y1="272.5" x2="72.5" y2="276.5" stroke="#fff" stroke-width="1.2" stroke-linecap="round"/>
<text x="137.00" y="257.98" font-family="'Liberation Serif', serif" font-weight="bold" font-size="7" fill="#000" text-anchor="start" stroke="#000" stroke-width="0.22">IG (behind)</text>
<line x1="135.5" y1="252.5" x2="132.5" y2="256.5" stroke="#333" stroke-width="2.0" stroke-linecap="round"/>
<line x1="135.5" y1="252.5" x2="132.5" y2="256.5" stroke="#fff" stroke-width="1.2" stroke-linecap="round"/>
<circle cx="199.7" cy="275.4" r="6.4" fill="none" stroke="#222" stroke-width="0.7"/>
<circle cx="211.1" cy="266.4" r="6.4" fill="none" stroke="#222" stroke-width="0.7"/>
<circle cx="209.4" cy="293.5" r="6.4" fill="none" stroke="#222" stroke-width="0.7"/>
<text x="190.80" y="259.68" font-family="'Liberation Serif', serif" font-weight="bold" font-size="7" fill="#000" text-anchor="start" stroke="#000" stroke-width="0.22">RoI#2</text>
<text x="174.80" y="268.08" font-family="'Liberation Serif', serif" font-weight="bold" font-size="7" fill="#000" text-anchor="start" stroke="#000" stroke-width="0.22">RoI#1</text>
<text x="217.40" y="296.38" font-family="'Liberation Serif', serif" font-weight="bold" font-size="7" fill="#000" text-anchor="start" stroke="#000" stroke-width="0.22">RoI#3</text>
<text x="251.40" y="242.58" font-family="'Liberation Serif', serif" font-weight="bold" font-size="7" fill="#000" text-anchor="middle" stroke="#000" stroke-width="0.22">IG</text>
<text x="251.40" y="251.08" font-family="'Liberation Serif', serif" font-weight="bold" font-size="7" fill="#000" text-anchor="middle" stroke="#000" stroke-width="0.22">(behind)</text>
<line x1="250.0" y1="252.4" x2="246.8" y2="257.4" stroke="#333" stroke-width="2.0" stroke-linecap="round"/>
<line x1="250.0" y1="252.4" x2="246.8" y2="257.4" stroke="#fff" stroke-width="1.2" stroke-linecap="round"/>
<text x="147.00" y="332.38" font-family="'Liberation Serif', serif" font-weight="bold" font-size="7" fill="#000" text-anchor="start" stroke="#000" stroke-width="0.22">IG (behind)</text>
<line x1="183.5" y1="329.0" x2="186.7" y2="324.0" stroke="#333" stroke-width="2.0" stroke-linecap="round"/>
<line x1="183.5" y1="329.0" x2="186.7" y2="324.0" stroke="#fff" stroke-width="1.2" stroke-linecap="round"/>
<circle cx="86.7" cy="425.8" r="6.4" fill="none" stroke="#222" stroke-width="0.7"/>
<circle cx="96.4" cy="413.7" r="6.4" fill="none" stroke="#222" stroke-width="0.7"/>
<circle cx="96.4" cy="445.2" r="6.4" fill="none" stroke="#222" stroke-width="0.7"/>
<text x="57.00" y="405.68" font-family="'Liberation Serif', serif" font-weight="bold" font-size="7" fill="#000" text-anchor="start" stroke="#000" stroke-width="0.22">IG (behind)</text>
<text x="101.30" y="410.08" font-family="'Liberation Serif', serif" font-weight="bold" font-size="7" fill="#000" text-anchor="start" stroke="#000" stroke-width="0.22">RoI#2</text>
<text x="61.80" y="419.28" font-family="'Liberation Serif', serif" font-weight="bold" font-size="7" fill="#000" text-anchor="start" stroke="#000" stroke-width="0.22">RoI#1</text>
<text x="49.70" y="429.38" font-family="'Liberation Serif', serif" font-weight="bold" font-size="7" fill="#000" text-anchor="start" stroke="#000" stroke-width="0.22">IG</text>
<text x="80.70" y="452.38" font-family="'Liberation Serif', serif" font-weight="bold" font-size="7" fill="#000" text-anchor="start" stroke="#000" stroke-width="0.22">IG</text>
<text x="104.40" y="447.58" font-family="'Liberation Serif', serif" font-weight="bold" font-size="7" fill="#000" text-anchor="start" stroke="#000" stroke-width="0.22">RoI#3</text>
<line x1="91.5" y1="409.0" x2="93.5" y2="413.0" stroke="#333" stroke-width="2.0" stroke-linecap="round"/>
<line x1="91.5" y1="409.0" x2="93.5" y2="413.0" stroke="#fff" stroke-width="1.2" stroke-linecap="round"/>
<line x1="58.5" y1="431.0" x2="61.0" y2="434.5" stroke="#333" stroke-width="2.0" stroke-linecap="round"/>
<line x1="58.5" y1="431.0" x2="61.0" y2="434.5" stroke="#fff" stroke-width="1.2" stroke-linecap="round"/>
<circle cx="91.6" cy="450.0" r="2.0" fill="#fff" stroke="#333" stroke-width="0.4"/>
<circle cx="200.5" cy="425.8" r="6.4" fill="none" stroke="#222" stroke-width="0.7"/>
<circle cx="211.8" cy="414.9" r="6.4" fill="none" stroke="#222" stroke-width="0.7"/>
<circle cx="208.7" cy="446.4" r="6.4" fill="none" stroke="#222" stroke-width="0.7"/>
<text x="199.70" y="407.18" font-family="'Liberation Serif', serif" font-weight="bold" font-size="7" fill="#000" text-anchor="start" stroke="#000" stroke-width="0.22">RoI#2</text>
<text x="196.60" y="416.78" font-family="'Liberation Serif', serif" font-weight="bold" font-size="7" fill="#000" text-anchor="start" stroke="#000" stroke-width="0.22">IG</text>
<text x="177.20" y="420.18" font-family="'Liberation Serif', serif" font-weight="bold" font-size="7" fill="#000" text-anchor="start" stroke="#000" stroke-width="0.22">RoI#1</text>
<text x="217.40" y="447.58" font-family="'Liberation Serif', serif" font-weight="bold" font-size="7" fill="#000" text-anchor="start" stroke="#000" stroke-width="0.22">RoI#3</text>
<text x="161.50" y="414.88" font-family="'Liberation Serif', serif" font-weight="bold" font-size="7" fill="#000" text-anchor="middle" stroke="#000" stroke-width="0.22">IG</text>
<text x="161.00" y="423.68" font-family="'Liberation Serif', serif" font-weight="bold" font-size="7" fill="#000" text-anchor="middle" stroke="#000" stroke-width="0.22">(behind)</text>
<line x1="175.3" y1="423.5" x2="179.0" y2="432.0" stroke="#333" stroke-width="2.0" stroke-linecap="round"/>
<line x1="175.3" y1="423.5" x2="179.0" y2="432.0" stroke="#fff" stroke-width="1.2" stroke-linecap="round"/>
<circle cx="208.8" cy="418.5" r="1.4" fill="#fff" stroke="#333" stroke-width="0.4"/>
<text x="225.40" y="485.28" font-family="'Liberation Serif', serif" font-weight="bold" font-size="7" fill="#000" text-anchor="start" stroke="#000" stroke-width="0.22">IG (behind)</text>
<line x1="231.8" y1="478.3" x2="230.2" y2="473.8" stroke="#333" stroke-width="2.0" stroke-linecap="round"/>
<line x1="231.8" y1="478.3" x2="230.2" y2="473.8" stroke="#fff" stroke-width="1.2" stroke-linecap="round"/>
</svg>
</body></html>
